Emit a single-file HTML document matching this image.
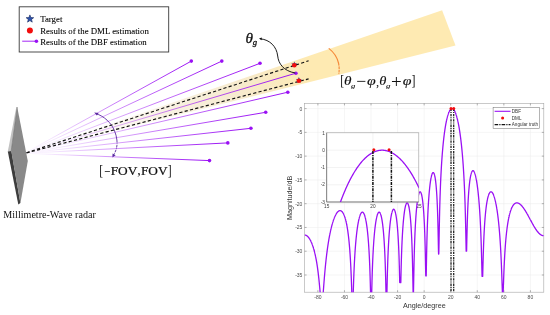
<!DOCTYPE html>
<html><head><meta charset="utf-8"><title>DBF / DML estimation</title>
<style>
html,body{margin:0;padding:0;background:#fff;}
svg{display:block}
.serif{font-family:"Liberation Serif","DejaVu Serif",serif}
.sans{font-family:"Liberation Sans","DejaVu Sans",sans-serif}
</style></head><body>
<svg width="550" height="315" viewBox="0 0 550 315">
<defs>
<linearGradient id="beamg" gradientUnits="userSpaceOnUse" x1="70" y1="138" x2="310" y2="68">
<stop offset="0" stop-color="#e8d8b4" stop-opacity="0"/>
<stop offset="0.4" stop-color="#ecdab0" stop-opacity="0.35"/>
<stop offset="0.7" stop-color="#f2dfb0" stop-opacity="0.62"/>
<stop offset="1" stop-color="#feeab2" stop-opacity="1"/>
</linearGradient>
<linearGradient id="lineg" gradientUnits="userSpaceOnUse" x1="24.5" y1="153.3" x2="200" y2="110">
<stop offset="0" stop-color="#9a10f4" stop-opacity="0"/>
<stop offset="0.12" stop-color="#9a10f4" stop-opacity="0.12"/>
<stop offset="0.6" stop-color="#9a10f4" stop-opacity="0.65"/>
<stop offset="1" stop-color="#9a10f4" stop-opacity="1"/>
</linearGradient>
<clipPath id="axclip"><rect x="304.6" y="103.4" width="239.19999999999993" height="188.79999999999998"/></clipPath>
<clipPath id="inclip"><rect x="326.7" y="132.8" width="92.10000000000002" height="69.19999999999999"/></clipPath>
</defs>
<rect width="550" height="315" fill="#fff"/>

<polygon points="24.5,153.3 442.1,10.3 455.5,45.6" fill="url(#beamg)"/>
<linearGradient id="lg0" gradientUnits="userSpaceOnUse" x1="24.5" y1="153.3" x2="191.3" y2="61.1"><stop offset="0" stop-color="#9a10f4" stop-opacity="0"/><stop offset="0.15" stop-color="#9a10f4" stop-opacity="0.1"/><stop offset="0.6" stop-color="#9a10f4" stop-opacity="0.6"/><stop offset="1" stop-color="#9a10f4" stop-opacity="1"/></linearGradient>
<line x1="24.5" y1="153.3" x2="191.3" y2="61.1" stroke="url(#lg0)" stroke-width="1.0"/>
<linearGradient id="lg1" gradientUnits="userSpaceOnUse" x1="24.5" y1="153.3" x2="221.8" y2="61.1"><stop offset="0" stop-color="#9a10f4" stop-opacity="0"/><stop offset="0.15" stop-color="#9a10f4" stop-opacity="0.1"/><stop offset="0.6" stop-color="#9a10f4" stop-opacity="0.6"/><stop offset="1" stop-color="#9a10f4" stop-opacity="1"/></linearGradient>
<line x1="24.5" y1="153.3" x2="221.8" y2="61.1" stroke="url(#lg1)" stroke-width="1.0"/>
<linearGradient id="lg2" gradientUnits="userSpaceOnUse" x1="24.5" y1="153.3" x2="260" y2="63.3"><stop offset="0" stop-color="#9a10f4" stop-opacity="0"/><stop offset="0.15" stop-color="#9a10f4" stop-opacity="0.1"/><stop offset="0.6" stop-color="#9a10f4" stop-opacity="0.6"/><stop offset="1" stop-color="#9a10f4" stop-opacity="1"/></linearGradient>
<line x1="24.5" y1="153.3" x2="260" y2="63.3" stroke="url(#lg2)" stroke-width="1.0"/>
<linearGradient id="lg3" gradientUnits="userSpaceOnUse" x1="24.5" y1="153.3" x2="295.9" y2="73.2"><stop offset="0" stop-color="#9a10f4" stop-opacity="0"/><stop offset="0.15" stop-color="#9a10f4" stop-opacity="0.1"/><stop offset="0.6" stop-color="#9a10f4" stop-opacity="0.6"/><stop offset="1" stop-color="#9a10f4" stop-opacity="1"/></linearGradient>
<line x1="24.5" y1="153.3" x2="295.9" y2="73.2" stroke="url(#lg3)" stroke-width="1.0"/>
<linearGradient id="lg4" gradientUnits="userSpaceOnUse" x1="24.5" y1="153.3" x2="287.8" y2="92.2"><stop offset="0" stop-color="#9a10f4" stop-opacity="0"/><stop offset="0.15" stop-color="#9a10f4" stop-opacity="0.1"/><stop offset="0.6" stop-color="#9a10f4" stop-opacity="0.6"/><stop offset="1" stop-color="#9a10f4" stop-opacity="1"/></linearGradient>
<line x1="24.5" y1="153.3" x2="287.8" y2="92.2" stroke="url(#lg4)" stroke-width="1.0"/>
<linearGradient id="lg5" gradientUnits="userSpaceOnUse" x1="24.5" y1="153.3" x2="265.7" y2="112.3"><stop offset="0" stop-color="#9a10f4" stop-opacity="0"/><stop offset="0.15" stop-color="#9a10f4" stop-opacity="0.1"/><stop offset="0.6" stop-color="#9a10f4" stop-opacity="0.6"/><stop offset="1" stop-color="#9a10f4" stop-opacity="1"/></linearGradient>
<line x1="24.5" y1="153.3" x2="265.7" y2="112.3" stroke="url(#lg5)" stroke-width="1.0"/>
<linearGradient id="lg6" gradientUnits="userSpaceOnUse" x1="24.5" y1="153.3" x2="250.9" y2="128.3"><stop offset="0" stop-color="#9a10f4" stop-opacity="0"/><stop offset="0.15" stop-color="#9a10f4" stop-opacity="0.1"/><stop offset="0.6" stop-color="#9a10f4" stop-opacity="0.6"/><stop offset="1" stop-color="#9a10f4" stop-opacity="1"/></linearGradient>
<line x1="24.5" y1="153.3" x2="250.9" y2="128.3" stroke="url(#lg6)" stroke-width="1.0"/>
<linearGradient id="lg7" gradientUnits="userSpaceOnUse" x1="24.5" y1="153.3" x2="227.8" y2="142.9"><stop offset="0" stop-color="#9a10f4" stop-opacity="0"/><stop offset="0.15" stop-color="#9a10f4" stop-opacity="0.1"/><stop offset="0.6" stop-color="#9a10f4" stop-opacity="0.6"/><stop offset="1" stop-color="#9a10f4" stop-opacity="1"/></linearGradient>
<line x1="24.5" y1="153.3" x2="227.8" y2="142.9" stroke="url(#lg7)" stroke-width="1.0"/>
<linearGradient id="lg8" gradientUnits="userSpaceOnUse" x1="24.5" y1="153.3" x2="209.5" y2="160.6"><stop offset="0" stop-color="#9a10f4" stop-opacity="0"/><stop offset="0.15" stop-color="#9a10f4" stop-opacity="0.1"/><stop offset="0.6" stop-color="#9a10f4" stop-opacity="0.6"/><stop offset="1" stop-color="#9a10f4" stop-opacity="1"/></linearGradient>
<line x1="24.5" y1="153.3" x2="209.5" y2="160.6" stroke="url(#lg8)" stroke-width="1.0"/>
<circle cx="191.3" cy="61.1" r="1.8" fill="#9a10f4"/>
<circle cx="221.8" cy="61.1" r="1.8" fill="#9a10f4"/>
<circle cx="260" cy="63.3" r="1.8" fill="#9a10f4"/>
<circle cx="295.9" cy="73.2" r="1.8" fill="#9a10f4"/>
<circle cx="287.8" cy="92.2" r="1.8" fill="#9a10f4"/>
<circle cx="265.7" cy="112.3" r="1.8" fill="#9a10f4"/>
<circle cx="250.9" cy="128.3" r="1.8" fill="#9a10f4"/>
<circle cx="227.8" cy="142.9" r="1.8" fill="#9a10f4"/>
<circle cx="209.5" cy="160.6" r="1.8" fill="#9a10f4"/>
<path d="M95.8,113.6 C104,116 111.5,123 114.6,131 C115.8,134 116.6,137 116.9,140" fill="none" stroke="#5b2aa0" stroke-width="0.9"/>
<path d="M116.9,140 C117.6,146 116.2,151 113.2,155.6" fill="none" stroke="#5b2aa0" stroke-width="0.9" stroke-dasharray="2.6 0.8 0.8 0.8"/>
<path d="M94.2,112.5 L98.6,112.9 L96.9,115.6 Z" fill="#5b2aa0"/>
<path d="M112.4,157.6 L112.6,153.4 L115.6,155.2 Z" fill="#5b2aa0"/>
<line x1="26.5" y1="152.70000000000002" x2="308.6" y2="60.8" stroke="#111" stroke-width="1.15" stroke-dasharray="3.2 2.25"/>
<line x1="26.5" y1="152.9" x2="308.6" y2="78.9" stroke="#111" stroke-width="1.15" stroke-dasharray="3.2 2.25"/>
<polygon points="294.30,61.40 295.09,63.51 297.34,63.61 295.58,65.02 296.18,67.19 294.30,65.94 292.42,67.19 293.02,65.02 291.26,63.61 293.51,63.51" fill="#1d3f94"/>
<polygon points="298.90,77.00 299.69,79.11 301.94,79.21 300.18,80.62 300.78,82.79 298.90,81.54 297.02,82.79 297.62,80.62 295.86,79.21 298.11,79.11" fill="#1d3f94"/>
<circle cx="294.3" cy="65.2" r="2.3" fill="#f20d0d"/>
<circle cx="298.9" cy="80.7" r="2.3" fill="#f20d0d"/>
<path d="M329.1,48.6 C333.5,52 337.2,57.5 338.5,63" fill="none" stroke="#f58a3a" stroke-width="1.15" stroke-linecap="round"/>
<path d="M338.5,63 C339.4,67 339.3,71 338.8,74.2" fill="none" stroke="#f58a3a" stroke-width="1.15" stroke-dasharray="2.6 0.8"/>
<path d="M260.3,38.8 C270,39.8 276.6,46.5 277.7,56 C278.4,63.5 283.5,71 295.3,73" fill="none" stroke="#111" stroke-width="0.95"/>
<path d="M259.0,38.6 L261.8,37.5 L261.6,40.2 Z" fill="#111"/>
<polygon points="16.3,106.9 17.4,106.9 11.4,151 7.8,151.4" fill="#c2c2c2"/>
<polygon points="7.8,151.4 11.4,151 20.4,203 18.3,204.4" fill="#3d3d3d"/>
<polygon points="17.2,106.9 27.8,161 20.4,203.2 11.2,151" fill="#898989"/>
<line x1="17.2" y1="107" x2="11.2" y2="151" stroke="#6a6a6a" stroke-width="0.5"/>
<rect x="19.2" y="6.8" width="149.5" height="45.2" fill="#fff" stroke="#3a3a3a" stroke-width="0.9"/>
<polygon points="29.90,14.90 30.89,17.54 33.70,17.66 31.50,19.42 32.25,22.14 29.90,20.58 27.55,22.14 28.30,19.42 26.10,17.66 28.91,17.54" fill="#2c52ad" stroke="#14265c" stroke-width="0.6" stroke-linejoin="miter"/>
<circle cx="29.9" cy="30.5" r="3" fill="#f20d0d"/>
<line x1="22.2" y1="41.2" x2="36" y2="41.2" stroke="#9a10f4" stroke-width="0.9"/>
<circle cx="36.4" cy="41.2" r="1.8" fill="#9a10f4"/>
<g class="serif" font-size="8.8" fill="#000" stroke="#000" stroke-width="0.08">
<text x="40.2" y="21.5">Target</text>
<text x="40.2" y="34.0">Results of the DML estimation</text>
<text x="40.2" y="44.9">Results of the DBF estimation</text>
</g>
<text class="serif" x="3.35" y="218" font-size="10.1" fill="#111">Millimetre-Wave radar</text>
<text transform="translate(99.22,175.18) scale(0.800,1)" font-size="14.67" style="font-family:Liberation Serif,DejaVu Serif,serif;" fill="#111">[</text>
<text transform="translate(103.95,174.95) scale(1.000,1)" font-size="11.03" style="font-family:Liberation Serif,DejaVu Serif,serif;font-weight:bold;" fill="#111">−</text>
<text transform="translate(110.67,175.14) scale(1.024,1)" font-size="13.04" style="font-family:Liberation Serif,DejaVu Serif,serif;" fill="#111" stroke="#111" stroke-width="0.22">FOV</text>
<text transform="translate(137.17,175.12) scale(0.919,1)" font-size="15.24" style="font-family:Liberation Serif,DejaVu Serif,serif;" fill="#111">,</text>
<text transform="translate(140.97,175.14) scale(1.020,1)" font-size="13.04" style="font-family:Liberation Serif,DejaVu Serif,serif;" fill="#111" stroke="#111" stroke-width="0.22">FOV</text>
<text transform="translate(167.86,175.18) scale(0.800,1)" font-size="14.67" style="font-family:Liberation Serif,DejaVu Serif,serif;" fill="#111">]</text>
<text transform="translate(245.44,42.51) scale(0.989,1)" font-size="15.44" style="font-family:Liberation Serif,DejaVu Serif,serif;font-style:italic;" fill="#111" stroke="#111" stroke-width="0.3">θ</text>
<text transform="translate(252.80,45.16) scale(1.122,1)" font-size="7.71" style="font-family:Liberation Serif,DejaVu Serif,serif;font-style:italic;" fill="#111" stroke="#111" stroke-width="0.3">g</text>
<text transform="translate(340.17,85.45) scale(0.830,1)" font-size="14.18" style="font-family:Liberation Serif,DejaVu Serif,serif;" fill="#111">[</text>
<text transform="translate(343.94,85.14) scale(1.209,1)" font-size="12.63" style="font-family:Liberation Serif,DejaVu Serif,serif;font-style:italic;" fill="#111" stroke="#111" stroke-width="0.12">θ</text>
<text transform="translate(351.00,87.59) scale(1.213,1)" font-size="7.13" style="font-family:Liberation Serif,DejaVu Serif,serif;font-style:italic;" fill="#111" stroke="#111" stroke-width="0.12">g</text>
<text transform="translate(356.21,87.43) scale(1.000,1)" font-size="17.73" style="font-family:Liberation Serif,DejaVu Serif,serif;" fill="#111">−</text>
<text transform="translate(367.00,85.24) scale(1.263,1)" font-size="12.51" style="font-family:Liberation Serif,DejaVu Serif,serif;font-style:italic;" fill="#111" stroke="#111" stroke-width="0.12">φ</text>
<text transform="translate(376.02,85.60) scale(0.978,1)" font-size="12.95" style="font-family:Liberation Serif,DejaVu Serif,serif;" fill="#111">,</text>
<text transform="translate(379.37,85.14) scale(1.152,1)" font-size="12.63" style="font-family:Liberation Serif,DejaVu Serif,serif;font-style:italic;" fill="#111" stroke="#111" stroke-width="0.12">θ</text>
<text transform="translate(385.90,87.59) scale(1.244,1)" font-size="7.13" style="font-family:Liberation Serif,DejaVu Serif,serif;font-style:italic;" fill="#111" stroke="#111" stroke-width="0.12">g</text>
<text transform="translate(391.05,88.07) scale(1.015,1)" font-size="18.74" style="font-family:Liberation Serif,DejaVu Serif,serif;" fill="#111">+</text>
<text transform="translate(402.71,85.24) scale(1.263,1)" font-size="12.51" style="font-family:Liberation Serif,DejaVu Serif,serif;font-style:italic;" fill="#111" stroke="#111" stroke-width="0.12">φ</text>
<text transform="translate(411.55,85.45) scale(0.846,1)" font-size="14.18" style="font-family:Liberation Serif,DejaVu Serif,serif;" fill="#111">]</text>
<rect x="304.6" y="103.4" width="239.2" height="188.8" fill="#fff"/>
<path d="M317.89,103.4 V292.2 M344.45,103.4 V292.2 M371.02,103.4 V292.2 M397.58,103.4 V292.2 M424.15,103.4 V292.2 M450.72,103.4 V292.2 M477.28,103.4 V292.2 M503.85,103.4 V292.2 M530.41,103.4 V292.2 M304.6,108.60 H543.8 M304.6,132.37 H543.8 M304.6,156.14 H543.8 M304.6,179.91 H543.8 M304.6,203.68 H543.8 M304.6,227.45 H543.8 M304.6,251.22 H543.8 M304.6,274.99 H543.8" stroke="#ebebeb" stroke-width="0.5" fill="none"/>
<rect x="304.6" y="103.4" width="239.2" height="188.8" fill="none" stroke="#a6a6a6" stroke-width="0.6"/>
<path d="M317.89,292.2 v-2 M317.89,103.4 v2 M344.45,292.2 v-2 M344.45,103.4 v2 M371.02,292.2 v-2 M371.02,103.4 v2 M397.58,292.2 v-2 M397.58,103.4 v2 M424.15,292.2 v-2 M424.15,103.4 v2 M450.72,292.2 v-2 M450.72,103.4 v2 M477.28,292.2 v-2 M477.28,103.4 v2 M503.85,292.2 v-2 M503.85,103.4 v2 M530.41,292.2 v-2 M530.41,103.4 v2 M304.6,108.60 h2 M543.8,108.60 h-2 M304.6,132.37 h2 M543.8,132.37 h-2 M304.6,156.14 h2 M543.8,156.14 h-2 M304.6,179.91 h2 M543.8,179.91 h-2 M304.6,203.68 h2 M543.8,203.68 h-2 M304.6,227.45 h2 M543.8,227.45 h-2 M304.6,251.22 h2 M543.8,251.22 h-2 M304.6,274.99 h2 M543.8,274.99 h-2" stroke="#6a6a6a" stroke-width="0.5" fill="none"/>
<g class="sans" font-size="5.0" fill="#4a4a4a">
<text x="317.9" y="299.2" text-anchor="middle">-80</text>
<text x="344.5" y="299.2" text-anchor="middle">-60</text>
<text x="371.0" y="299.2" text-anchor="middle">-40</text>
<text x="397.6" y="299.2" text-anchor="middle">-20</text>
<text x="424.1" y="299.2" text-anchor="middle">0</text>
<text x="450.7" y="299.2" text-anchor="middle">20</text>
<text x="477.3" y="299.2" text-anchor="middle">40</text>
<text x="503.8" y="299.2" text-anchor="middle">60</text>
<text x="530.4" y="299.2" text-anchor="middle">80</text>
<text x="302.4" y="110.6" text-anchor="end">0</text>
<text x="302.4" y="134.4" text-anchor="end">-5</text>
<text x="302.4" y="158.1" text-anchor="end">-10</text>
<text x="302.4" y="181.9" text-anchor="end">-15</text>
<text x="302.4" y="205.7" text-anchor="end">-20</text>
<text x="302.4" y="229.4" text-anchor="end">-25</text>
<text x="302.4" y="253.2" text-anchor="end">-30</text>
<text x="302.4" y="277.0" text-anchor="end">-35</text>
</g>
<text class="sans" x="424.3" y="308.2" font-size="7.2" fill="#333" text-anchor="middle">Angle/degree</text>
<text class="sans" transform="translate(291.8,197.9) rotate(-90)" font-size="7.2" fill="#333" text-anchor="middle">Magnitude/dB</text>
<g class="sans" font-size="4.7" fill="#3a3a3a">
<text x="324.8" y="134.5" text-anchor="end">1</text>
<text x="324.8" y="151.8" text-anchor="end">0</text>
<text x="324.8" y="169.1" text-anchor="end">-1</text>
<text x="324.8" y="186.4" text-anchor="end">-2</text>
<text x="324.8" y="203.7" text-anchor="end">-3</text>
<text x="326.7" y="207.6" text-anchor="middle">15</text>
<text x="372.9" y="207.6" text-anchor="middle">20</text>
<text x="419.1" y="207.6" text-anchor="middle">25</text>
</g>
<g clip-path="url(#axclip)"><path d="M304.60,235.00 L304.67,235.00 L304.74,235.01 L304.80,235.01 L304.87,235.01 L304.94,235.02 L305.00,235.03 L305.07,235.04 L305.13,235.05 L305.20,235.06 L305.27,235.07 L305.33,235.09 L305.40,235.10 L305.47,235.12 L305.53,235.14 L305.60,235.16 L305.67,235.18 L305.73,235.20 L305.80,235.22 L305.86,235.25 L305.93,235.28 L306.00,235.30 L306.06,235.33 L306.13,235.36 L306.20,235.39 L306.26,235.43 L306.33,235.46 L306.40,235.50 L306.46,235.54 L306.53,235.57 L306.60,235.61 L306.66,235.66 L306.73,235.70 L306.79,235.74 L306.86,235.79 L306.93,235.84 L306.99,235.88 L307.06,235.93 L307.13,235.99 L307.19,236.04 L307.26,236.09 L307.33,236.15 L307.39,236.20 L307.46,236.26 L307.53,236.32 L307.59,236.38 L307.66,236.45 L307.72,236.51 L307.79,236.57 L307.86,236.64 L307.92,236.71 L307.99,236.78 L308.06,236.85 L308.12,236.92 L308.19,237.00 L308.26,237.07 L308.32,237.15 L308.39,237.23 L308.46,237.31 L308.52,237.39 L308.59,237.47 L308.65,237.55 L308.72,237.64 L308.79,237.72 L308.85,237.81 L308.92,237.90 L308.99,237.99 L309.05,238.09 L309.12,238.18 L309.19,238.28 L309.25,238.37 L309.32,238.47 L309.38,238.57 L309.45,238.68 L309.52,238.78 L309.58,238.88 L309.65,238.99 L309.72,239.10 L309.78,239.21 L309.85,239.32 L309.92,239.43 L309.98,239.55 L310.05,239.66 L310.12,239.78 L310.18,239.90 L310.25,240.02 L310.31,240.14 L310.38,240.27 L310.45,240.39 L310.51,240.52 L310.58,240.65 L310.65,240.78 L310.71,240.91 L310.78,241.05 L310.85,241.18 L310.91,241.32 L310.98,241.46 L311.05,241.60 L311.11,241.74 L311.18,241.89 L311.24,242.03 L311.31,242.18 L311.38,242.33 L311.44,242.48 L311.51,242.64 L311.58,242.79 L311.64,242.95 L311.71,243.11 L311.78,243.27 L311.84,243.44 L311.91,243.60 L311.98,243.77 L312.04,243.94 L312.11,244.11 L312.17,244.28 L312.24,244.46 L312.31,244.63 L312.37,244.81 L312.44,245.00 L312.51,245.18 L312.57,245.36 L312.64,245.55 L312.71,245.74 L312.77,245.94 L312.84,246.13 L312.90,246.33 L312.97,246.53 L313.04,246.73 L313.10,246.93 L313.17,247.14 L313.24,247.35 L313.30,247.56 L313.37,247.77 L313.44,247.99 L313.50,248.21 L313.57,248.43 L313.64,248.65 L313.70,248.88 L313.77,249.11 L313.83,249.34 L313.90,249.57 L313.97,249.81 L314.03,250.05 L314.10,250.29 L314.17,250.54 L314.23,250.79 L314.30,251.04 L314.37,251.29 L314.43,251.55 L314.50,251.81 L314.57,252.07 L314.63,252.34 L314.70,252.61 L314.76,252.88 L314.83,253.16 L314.90,253.44 L314.96,253.72 L315.03,254.01 L315.10,254.30 L315.16,254.59 L315.23,254.89 L315.30,255.19 L315.36,255.50 L315.43,255.80 L315.50,256.12 L315.56,256.43 L315.63,256.75 L315.69,257.08 L315.76,257.41 L315.83,257.74 L315.89,258.08 L315.96,258.42 L316.03,258.76 L316.09,259.11 L316.16,259.47 L316.23,259.83 L316.29,260.19 L316.36,260.56 L316.42,260.93 L316.49,261.31 L316.56,261.69 L316.62,262.08 L316.69,262.47 L316.76,262.87 L316.82,263.28 L316.89,263.69 L316.96,264.10 L317.02,264.52 L317.09,264.95 L317.16,265.38 L317.22,265.82 L317.29,266.27 L317.35,266.72 L317.42,267.17 L317.49,267.64 L317.55,268.11 L317.62,268.58 L317.69,269.07 L317.75,269.56 L317.82,270.06 L317.89,270.56 L317.95,271.07 L318.02,271.59 L318.09,272.12 L318.15,272.65 L318.22,273.19 L318.28,273.74 L318.35,274.30 L318.42,274.86 L318.48,275.44 L318.55,276.02 L318.62,276.61 L318.68,277.21 L318.75,277.81 L318.82,278.43 L318.88,279.05 L318.95,279.69 L319.02,280.33 L319.08,280.98 L319.15,281.63 L319.21,282.30 L319.28,282.97 L319.35,283.66 L319.41,284.35 L319.48,285.05 L319.55,285.75 L319.61,286.47 L319.68,287.19 L319.75,287.92 L319.81,288.65 L319.88,289.39 L319.94,290.13 L320.01,290.88 L320.08,291.63 L320.14,292.39 L320.21,293.14 L320.28,293.89 L320.34,294.64 L320.41,295.39 L320.48,296.13 L320.54,296.86 L320.61,297.59 L320.68,298.30 L320.74,298.99 L320.81,299.67 L320.87,300.32 L320.94,300.95 L321.01,301.55 L321.07,302.12 L321.14,302.65 L321.21,303.14 L321.27,303.59 L321.34,303.99 L321.41,304.34 L321.47,304.63 L321.54,304.87 L321.61,305.04 L321.67,305.15 L321.74,305.20 L321.80,305.18 L321.87,305.09 L321.94,304.94 L322.00,304.73 L322.07,304.45 L322.14,304.11 L322.20,303.70 L322.27,303.25 L322.34,302.74 L322.40,302.17 L322.47,301.57 L322.54,300.92 L322.60,300.23 L322.67,299.51 L322.73,298.76 L322.80,297.98 L322.87,297.18 L322.93,296.36 L323.00,295.52 L323.07,294.67 L323.13,293.81 L323.20,292.94 L323.27,292.06 L323.33,291.17 L323.40,290.29 L323.46,289.40 L323.53,288.51 L323.60,287.63 L323.66,286.74 L323.73,285.86 L323.80,284.99 L323.86,284.12 L323.93,283.25 L324.00,282.40 L324.06,281.54 L324.13,280.70 L324.20,279.87 L324.26,279.04 L324.33,278.22 L324.39,277.41 L324.46,276.61 L324.53,275.81 L324.59,275.03 L324.66,274.25 L324.73,273.48 L324.79,272.72 L324.86,271.97 L324.93,271.23 L324.99,270.50 L325.06,269.78 L325.13,269.06 L325.19,268.35 L325.26,267.66 L325.32,266.97 L325.39,266.28 L325.46,265.61 L325.52,264.94 L325.59,264.29 L325.66,263.64 L325.72,262.99 L325.79,262.36 L325.86,261.73 L325.92,261.11 L325.99,260.50 L326.06,259.89 L326.12,259.29 L326.19,258.70 L326.25,258.12 L326.32,257.54 L326.39,256.97 L326.45,256.40 L326.52,255.84 L326.59,255.29 L326.65,254.74 L326.72,254.20 L326.79,253.67 L326.85,253.14 L326.92,252.62 L326.98,252.10 L327.05,251.59 L327.12,251.08 L327.18,250.58 L327.25,250.09 L327.32,249.60 L327.38,249.11 L327.45,248.63 L327.52,248.16 L327.58,247.69 L327.65,247.22 L327.72,246.76 L327.78,246.31 L327.85,245.86 L327.91,245.41 L327.98,244.97 L328.05,244.53 L328.11,244.10 L328.18,243.67 L328.25,243.25 L328.31,242.83 L328.38,242.42 L328.45,242.01 L328.51,241.60 L328.58,241.20 L328.65,240.80 L328.71,240.40 L328.78,240.01 L328.84,239.62 L328.91,239.24 L328.98,238.86 L329.04,238.48 L329.11,238.11 L329.18,237.74 L329.24,237.38 L329.31,237.02 L329.38,236.66 L329.44,236.30 L329.51,235.95 L329.58,235.60 L329.64,235.26 L329.71,234.92 L329.77,234.58 L329.84,234.25 L329.91,233.91 L329.97,233.59 L330.04,233.26 L330.11,232.94 L330.17,232.62 L330.24,232.30 L330.31,231.99 L330.37,231.68 L330.44,231.37 L330.50,231.07 L330.57,230.77 L330.64,230.47 L330.70,230.17 L330.77,229.88 L330.84,229.59 L330.90,229.31 L330.97,229.02 L331.04,228.74 L331.10,228.46 L331.17,228.18 L331.24,227.91 L331.30,227.64 L331.37,227.37 L331.43,227.11 L331.50,226.84 L331.57,226.58 L331.63,226.32 L331.70,226.07 L331.77,225.82 L331.83,225.57 L331.90,225.32 L331.97,225.07 L332.03,224.83 L332.10,224.59 L332.17,224.35 L332.23,224.11 L332.30,223.88 L332.36,223.65 L332.43,223.42 L332.50,223.19 L332.56,222.97 L332.63,222.75 L332.70,222.53 L332.76,222.31 L332.83,222.10 L332.90,221.88 L332.96,221.67 L333.03,221.47 L333.10,221.26 L333.16,221.06 L333.23,220.85 L333.29,220.65 L333.36,220.46 L333.43,220.26 L333.49,220.07 L333.56,219.88 L333.63,219.69 L333.69,219.50 L333.76,219.32 L333.83,219.14 L333.89,218.96 L333.96,218.78 L334.02,218.60 L334.09,218.43 L334.16,218.25 L334.22,218.08 L334.29,217.92 L334.36,217.75 L334.42,217.59 L334.49,217.42 L334.56,217.26 L334.62,217.11 L334.69,216.95 L334.76,216.80 L334.82,216.64 L334.89,216.49 L334.95,216.35 L335.02,216.20 L335.09,216.06 L335.15,215.91 L335.22,215.77 L335.29,215.63 L335.35,215.50 L335.42,215.36 L335.49,215.23 L335.55,215.10 L335.62,214.97 L335.69,214.84 L335.75,214.72 L335.82,214.60 L335.88,214.48 L335.95,214.36 L336.02,214.24 L336.08,214.12 L336.15,214.01 L336.22,213.90 L336.28,213.79 L336.35,213.68 L336.42,213.58 L336.48,213.47 L336.55,213.37 L336.62,213.27 L336.68,213.17 L336.75,213.07 L336.81,212.98 L336.88,212.89 L336.95,212.79 L337.01,212.71 L337.08,212.62 L337.15,212.53 L337.21,212.45 L337.28,212.37 L337.35,212.29 L337.41,212.21 L337.48,212.13 L337.54,212.06 L337.61,211.99 L337.68,211.92 L337.74,211.85 L337.81,211.78 L337.88,211.72 L337.94,211.65 L338.01,211.59 L338.08,211.53 L338.14,211.48 L338.21,211.42 L338.28,211.37 L338.34,211.32 L338.41,211.27 L338.47,211.22 L338.54,211.17 L338.61,211.13 L338.67,211.09 L338.74,211.05 L338.81,211.01 L338.87,210.97 L338.94,210.94 L339.01,210.90 L339.07,210.87 L339.14,210.85 L339.21,210.82 L339.27,210.79 L339.34,210.77 L339.40,210.75 L339.47,210.73 L339.54,210.72 L339.60,210.70 L339.67,210.69 L339.74,210.68 L339.80,210.67 L339.87,210.66 L339.94,210.66 L340.00,210.66 L340.07,210.66 L340.14,210.66 L340.20,210.66 L340.27,210.67 L340.33,210.68 L340.40,210.69 L340.47,210.70 L340.53,210.71 L340.60,210.73 L340.67,210.75 L340.73,210.77 L340.80,210.79 L340.87,210.82 L340.93,210.85 L341.00,210.88 L341.06,210.91 L341.13,210.94 L341.20,210.98 L341.26,211.02 L341.33,211.06 L341.40,211.10 L341.46,211.15 L341.53,211.20 L341.60,211.25 L341.66,211.30 L341.73,211.36 L341.80,211.41 L341.86,211.48 L341.93,211.54 L341.99,211.60 L342.06,211.67 L342.13,211.74 L342.19,211.82 L342.26,211.89 L342.33,211.97 L342.39,212.05 L342.46,212.13 L342.53,212.22 L342.59,212.31 L342.66,212.40 L342.73,212.49 L342.79,212.59 L342.86,212.69 L342.92,212.79 L342.99,212.90 L343.06,213.01 L343.12,213.12 L343.19,213.23 L343.26,213.35 L343.32,213.47 L343.39,213.59 L343.46,213.72 L343.52,213.85 L343.59,213.98 L343.66,214.12 L343.72,214.26 L343.79,214.40 L343.85,214.54 L343.92,214.69 L343.99,214.84 L344.05,215.00 L344.12,215.16 L344.19,215.32 L344.25,215.49 L344.32,215.66 L344.39,215.83 L344.45,216.01 L344.52,216.19 L344.58,216.37 L344.65,216.56 L344.72,216.75 L344.78,216.94 L344.85,217.14 L344.92,217.35 L344.98,217.55 L345.05,217.77 L345.12,217.98 L345.18,218.20 L345.25,218.43 L345.32,218.65 L345.38,218.89 L345.45,219.13 L345.51,219.37 L345.58,219.61 L345.65,219.86 L345.71,220.12 L345.78,220.38 L345.85,220.65 L345.91,220.92 L345.98,221.19 L346.05,221.47 L346.11,221.76 L346.18,222.05 L346.25,222.35 L346.31,222.65 L346.38,222.96 L346.44,223.27 L346.51,223.59 L346.58,223.92 L346.64,224.25 L346.71,224.59 L346.78,224.93 L346.84,225.28 L346.91,225.64 L346.98,226.00 L347.04,226.37 L347.11,226.75 L347.18,227.13 L347.24,227.52 L347.31,227.92 L347.37,228.32 L347.44,228.74 L347.51,229.16 L347.57,229.59 L347.64,230.02 L347.71,230.47 L347.77,230.92 L347.84,231.39 L347.91,231.86 L347.97,232.34 L348.04,232.83 L348.10,233.33 L348.17,233.84 L348.24,234.36 L348.30,234.89 L348.37,235.43 L348.44,235.98 L348.50,236.55 L348.57,237.12 L348.64,237.71 L348.70,238.31 L348.77,238.92 L348.84,239.55 L348.90,240.18 L348.97,240.84 L349.03,241.50 L349.10,242.18 L349.17,242.88 L349.23,243.59 L349.30,244.32 L349.37,245.06 L349.43,245.83 L349.50,246.61 L349.57,247.41 L349.63,248.22 L349.70,249.06 L349.77,249.92 L349.83,250.80 L349.90,251.71 L349.96,252.63 L350.03,253.58 L350.10,254.56 L350.16,255.56 L350.23,256.59 L350.30,257.65 L350.36,258.74 L350.43,259.86 L350.50,261.02 L350.56,262.21 L350.63,263.43 L350.70,264.69 L350.76,265.99 L350.83,267.34 L350.89,268.72 L350.96,270.16 L351.03,271.63 L351.09,273.16 L351.16,274.74 L351.23,276.38 L351.29,278.07 L351.36,279.81 L351.43,281.61 L351.49,283.48 L351.56,285.40 L351.62,287.37 L351.69,289.40 L351.76,291.48 L351.82,293.59 L351.89,295.73 L351.96,297.87 L352.02,299.99 L352.09,302.04 L352.16,303.99 L352.22,305.77 L352.29,307.33 L352.36,308.58 L352.42,309.47 L352.49,309.94 L352.55,309.96 L352.62,309.53 L352.69,308.68 L352.75,307.44 L352.82,305.90 L352.89,304.11 L352.95,302.15 L353.02,300.07 L353.09,297.92 L353.15,295.74 L353.22,293.56 L353.29,291.40 L353.35,289.27 L353.42,287.19 L353.48,285.17 L353.55,283.20 L353.62,281.28 L353.68,279.43 L353.75,277.63 L353.82,275.89 L353.88,274.21 L353.95,272.58 L354.02,271.00 L354.08,269.48 L354.15,268.00 L354.22,266.57 L354.28,265.18 L354.35,263.83 L354.41,262.52 L354.48,261.25 L354.55,260.02 L354.61,258.82 L354.68,257.66 L354.75,256.53 L354.81,255.43 L354.88,254.35 L354.95,253.31 L355.01,252.29 L355.08,251.30 L355.14,250.34 L355.21,249.40 L355.28,248.48 L355.34,247.58 L355.41,246.71 L355.48,245.85 L355.54,245.02 L355.61,244.20 L355.68,243.41 L355.74,242.63 L355.81,241.86 L355.88,241.12 L355.94,240.39 L356.01,239.68 L356.07,238.98 L356.14,238.30 L356.21,237.63 L356.27,236.98 L356.34,236.34 L356.41,235.71 L356.47,235.09 L356.54,234.49 L356.61,233.90 L356.67,233.32 L356.74,232.76 L356.81,232.20 L356.87,231.66 L356.94,231.13 L357.00,230.61 L357.07,230.09 L357.14,229.59 L357.20,229.10 L357.27,228.62 L357.34,228.15 L357.40,227.68 L357.47,227.23 L357.54,226.78 L357.60,226.35 L357.67,225.92 L357.73,225.50 L357.80,225.09 L357.87,224.69 L357.93,224.29 L358.00,223.91 L358.07,223.53 L358.13,223.16 L358.20,222.79 L358.27,222.44 L358.33,222.09 L358.40,221.75 L358.47,221.41 L358.53,221.08 L358.60,220.76 L358.66,220.45 L358.73,220.14 L358.80,219.84 L358.86,219.55 L358.93,219.26 L359.00,218.98 L359.06,218.71 L359.13,218.44 L359.20,218.18 L359.26,217.92 L359.33,217.67 L359.40,217.43 L359.46,217.19 L359.53,216.96 L359.59,216.73 L359.66,216.51 L359.73,216.30 L359.79,216.09 L359.86,215.89 L359.93,215.69 L359.99,215.50 L360.06,215.32 L360.13,215.14 L360.19,214.96 L360.26,214.79 L360.33,214.63 L360.39,214.47 L360.46,214.32 L360.52,214.17 L360.59,214.03 L360.66,213.89 L360.72,213.76 L360.79,213.64 L360.86,213.52 L360.92,213.40 L360.99,213.29 L361.06,213.19 L361.12,213.09 L361.19,212.99 L361.25,212.90 L361.32,212.82 L361.39,212.74 L361.45,212.67 L361.52,212.60 L361.59,212.53 L361.65,212.48 L361.72,212.42 L361.79,212.37 L361.85,212.33 L361.92,212.29 L361.99,212.26 L362.05,212.23 L362.12,212.21 L362.18,212.20 L362.25,212.18 L362.32,212.18 L362.38,212.18 L362.45,212.18 L362.52,212.19 L362.58,212.20 L362.65,212.22 L362.72,212.25 L362.78,212.28 L362.85,212.31 L362.92,212.35 L362.98,212.40 L363.05,212.45 L363.11,212.51 L363.18,212.57 L363.25,212.64 L363.31,212.71 L363.38,212.79 L363.45,212.88 L363.51,212.97 L363.58,213.07 L363.65,213.17 L363.71,213.27 L363.78,213.39 L363.85,213.51 L363.91,213.63 L363.98,213.76 L364.04,213.90 L364.11,214.04 L364.18,214.19 L364.24,214.35 L364.31,214.51 L364.38,214.68 L364.44,214.85 L364.51,215.03 L364.58,215.22 L364.64,215.41 L364.71,215.61 L364.77,215.82 L364.84,216.03 L364.91,216.25 L364.97,216.48 L365.04,216.71 L365.11,216.95 L365.17,217.20 L365.24,217.46 L365.31,217.72 L365.37,217.99 L365.44,218.27 L365.51,218.55 L365.57,218.85 L365.64,219.15 L365.70,219.46 L365.77,219.78 L365.84,220.11 L365.90,220.44 L365.97,220.78 L366.04,221.14 L366.10,221.50 L366.17,221.87 L366.24,222.25 L366.30,222.64 L366.37,223.04 L366.44,223.45 L366.50,223.87 L366.57,224.30 L366.63,224.74 L366.70,225.19 L366.77,225.65 L366.83,226.13 L366.90,226.61 L366.97,227.11 L367.03,227.62 L367.10,228.14 L367.17,228.68 L367.23,229.23 L367.30,229.79 L367.37,230.37 L367.43,230.96 L367.50,231.56 L367.56,232.18 L367.63,232.82 L367.70,233.47 L367.76,234.14 L367.83,234.82 L367.90,235.53 L367.96,236.25 L368.03,236.99 L368.10,237.75 L368.16,238.53 L368.23,239.34 L368.29,240.16 L368.36,241.01 L368.43,241.88 L368.49,242.77 L368.56,243.70 L368.63,244.65 L368.69,245.62 L368.76,246.63 L368.83,247.67 L368.89,248.73 L368.96,249.84 L369.03,250.98 L369.09,252.15 L369.16,253.37 L369.22,254.62 L369.29,255.92 L369.36,257.27 L369.42,258.66 L369.49,260.11 L369.56,261.61 L369.62,263.17 L369.69,264.79 L369.76,266.47 L369.82,268.22 L369.89,270.05 L369.96,271.96 L370.02,273.94 L370.09,276.02 L370.15,278.18 L370.22,280.44 L370.29,282.80 L370.35,285.26 L370.42,287.81 L370.49,290.46 L370.55,293.18 L370.62,295.97 L370.69,298.77 L370.75,301.53 L370.82,304.17 L370.89,306.59 L370.95,308.63 L371.02,310.15 L371.08,311.01 L371.15,311.13 L371.22,310.47 L371.28,309.13 L371.35,307.21 L371.42,304.87 L371.48,302.26 L371.55,299.50 L371.62,296.67 L371.68,293.85 L371.75,291.07 L371.81,288.37 L371.88,285.75 L371.95,283.23 L372.01,280.81 L372.08,278.49 L372.15,276.27 L372.21,274.13 L372.28,272.09 L372.35,270.13 L372.41,268.25 L372.48,266.44 L372.55,264.71 L372.61,263.04 L372.68,261.44 L372.74,259.89 L372.81,258.40 L372.88,256.96 L372.94,255.57 L373.01,254.23 L373.08,252.93 L373.14,251.68 L373.21,250.47 L373.28,249.29 L373.34,248.15 L373.41,247.05 L373.48,245.97 L373.54,244.93 L373.61,243.92 L373.67,242.94 L373.74,241.99 L373.81,241.06 L373.87,240.16 L373.94,239.29 L374.01,238.43 L374.07,237.60 L374.14,236.79 L374.21,236.01 L374.27,235.24 L374.34,234.49 L374.41,233.76 L374.47,233.05 L374.54,232.36 L374.60,231.69 L374.67,231.03 L374.74,230.39 L374.80,229.76 L374.87,229.16 L374.94,228.56 L375.00,227.98 L375.07,227.41 L375.14,226.86 L375.20,226.33 L375.27,225.80 L375.33,225.29 L375.40,224.79 L375.47,224.30 L375.53,223.83 L375.60,223.37 L375.67,222.91 L375.73,222.48 L375.80,222.05 L375.87,221.63 L375.93,221.22 L376.00,220.83 L376.07,220.44 L376.13,220.07 L376.20,219.70 L376.26,219.35 L376.33,219.00 L376.40,218.67 L376.46,218.34 L376.53,218.03 L376.60,217.72 L376.66,217.42 L376.73,217.13 L376.80,216.85 L376.86,216.58 L376.93,216.32 L377.00,216.06 L377.06,215.82 L377.13,215.58 L377.19,215.35 L377.26,215.14 L377.33,214.92 L377.39,214.72 L377.46,214.52 L377.53,214.34 L377.59,214.16 L377.66,213.99 L377.73,213.82 L377.79,213.67 L377.86,213.52 L377.93,213.38 L377.99,213.25 L378.06,213.12 L378.12,213.01 L378.19,212.90 L378.26,212.80 L378.32,212.70 L378.39,212.62 L378.46,212.54 L378.52,212.47 L378.59,212.41 L378.66,212.35 L378.72,212.30 L378.79,212.26 L378.85,212.23 L378.92,212.20 L378.99,212.18 L379.05,212.17 L379.12,212.17 L379.19,212.17 L379.25,212.19 L379.32,212.21 L379.39,212.23 L379.45,212.27 L379.52,212.31 L379.59,212.36 L379.65,212.42 L379.72,212.49 L379.78,212.56 L379.85,212.64 L379.92,212.73 L379.98,212.83 L380.05,212.94 L380.12,213.05 L380.18,213.17 L380.25,213.30 L380.32,213.44 L380.38,213.59 L380.45,213.75 L380.52,213.91 L380.58,214.08 L380.65,214.26 L380.71,214.45 L380.78,214.65 L380.85,214.86 L380.91,215.08 L380.98,215.30 L381.05,215.54 L381.11,215.78 L381.18,216.04 L381.25,216.30 L381.31,216.58 L381.38,216.86 L381.45,217.16 L381.51,217.46 L381.58,217.78 L381.64,218.10 L381.71,218.44 L381.78,218.79 L381.84,219.15 L381.91,219.52 L381.98,219.90 L382.04,220.29 L382.11,220.70 L382.18,221.12 L382.24,221.55 L382.31,221.99 L382.37,222.45 L382.44,222.92 L382.51,223.41 L382.57,223.90 L382.64,224.42 L382.71,224.95 L382.77,225.49 L382.84,226.05 L382.91,226.63 L382.97,227.22 L383.04,227.83 L383.11,228.46 L383.17,229.10 L383.24,229.77 L383.30,230.45 L383.37,231.16 L383.44,231.88 L383.50,232.63 L383.57,233.40 L383.64,234.19 L383.70,235.01 L383.77,235.85 L383.84,236.72 L383.90,237.62 L383.97,238.54 L384.04,239.49 L384.10,240.48 L384.17,241.49 L384.23,242.54 L384.30,243.63 L384.37,244.75 L384.43,245.92 L384.50,247.12 L384.57,248.37 L384.63,249.67 L384.70,251.01 L384.77,252.41 L384.83,253.86 L384.90,255.37 L384.97,256.94 L385.03,258.58 L385.10,260.29 L385.16,262.07 L385.23,263.94 L385.30,265.90 L385.36,267.94 L385.43,270.09 L385.50,272.35 L385.56,274.72 L385.63,277.21 L385.70,279.82 L385.76,282.56 L385.83,285.44 L385.89,288.44 L385.96,291.55 L386.03,294.73 L386.09,297.94 L386.16,301.07 L386.23,304.00 L386.29,306.54 L386.36,308.47 L386.43,309.56 L386.49,309.67 L386.56,308.78 L386.63,307.01 L386.69,304.57 L386.76,301.67 L386.82,298.53 L386.89,295.29 L386.96,292.04 L387.02,288.87 L387.09,285.79 L387.16,282.84 L387.22,280.01 L387.29,277.32 L387.36,274.75 L387.42,272.31 L387.49,269.98 L387.56,267.75 L387.62,265.64 L387.69,263.61 L387.75,261.68 L387.82,259.82 L387.89,258.05 L387.95,256.35 L388.02,254.72 L388.09,253.15 L388.15,251.64 L388.22,250.18 L388.29,248.78 L388.35,247.43 L388.42,246.13 L388.49,244.87 L388.55,243.65 L388.62,242.48 L388.68,241.34 L388.75,240.24 L388.82,239.17 L388.88,238.14 L388.95,237.13 L389.02,236.16 L389.08,235.22 L389.15,234.31 L389.22,233.42 L389.28,232.56 L389.35,231.72 L389.41,230.90 L389.48,230.11 L389.55,229.34 L389.61,228.60 L389.68,227.87 L389.75,227.16 L389.81,226.48 L389.88,225.81 L389.95,225.16 L390.01,224.53 L390.08,223.91 L390.15,223.32 L390.21,222.74 L390.28,222.17 L390.34,221.62 L390.41,221.09 L390.48,220.57 L390.54,220.06 L390.61,219.57 L390.68,219.10 L390.74,218.63 L390.81,218.18 L390.88,217.75 L390.94,217.32 L391.01,216.91 L391.08,216.52 L391.14,216.13 L391.21,215.75 L391.27,215.39 L391.34,215.04 L391.41,214.70 L391.47,214.37 L391.54,214.06 L391.61,213.75 L391.67,213.46 L391.74,213.17 L391.81,212.90 L391.87,212.64 L391.94,212.38 L392.01,212.14 L392.07,211.91 L392.14,211.69 L392.20,211.48 L392.27,211.27 L392.34,211.08 L392.40,210.90 L392.47,210.73 L392.54,210.56 L392.60,210.41 L392.67,210.27 L392.74,210.13 L392.80,210.01 L392.87,209.89 L392.93,209.78 L393.00,209.69 L393.07,209.60 L393.13,209.52 L393.20,209.45 L393.27,209.39 L393.33,209.34 L393.40,209.30 L393.47,209.27 L393.53,209.25 L393.60,209.24 L393.67,209.23 L393.73,209.24 L393.80,209.25 L393.86,209.28 L393.93,209.31 L394.00,209.36 L394.06,209.41 L394.13,209.47 L394.20,209.54 L394.26,209.63 L394.33,209.72 L394.40,209.82 L394.46,209.93 L394.53,210.05 L394.60,210.18 L394.66,210.32 L394.73,210.47 L394.79,210.63 L394.86,210.81 L394.93,210.99 L394.99,211.18 L395.06,211.39 L395.13,211.60 L395.19,211.82 L395.26,212.06 L395.33,212.31 L395.39,212.57 L395.46,212.84 L395.53,213.12 L395.59,213.42 L395.66,213.72 L395.72,214.04 L395.79,214.37 L395.86,214.72 L395.92,215.08 L395.99,215.45 L396.06,215.83 L396.12,216.23 L396.19,216.64 L396.26,217.07 L396.32,217.51 L396.39,217.96 L396.45,218.44 L396.52,218.92 L396.59,219.43 L396.65,219.95 L396.72,220.48 L396.79,221.04 L396.85,221.61 L396.92,222.20 L396.99,222.81 L397.05,223.44 L397.12,224.10 L397.19,224.77 L397.25,225.46 L397.32,226.18 L397.38,226.92 L397.45,227.68 L397.52,228.47 L397.58,229.28 L397.65,230.13 L397.72,231.00 L397.78,231.89 L397.85,232.82 L397.92,233.79 L397.98,234.78 L398.05,235.81 L398.12,236.88 L398.18,237.99 L398.25,239.14 L398.31,240.33 L398.38,241.57 L398.45,242.85 L398.51,244.19 L398.58,245.58 L398.65,247.02 L398.71,248.53 L398.78,250.11 L398.85,251.75 L398.91,253.47 L398.98,255.27 L399.05,257.16 L399.11,259.14 L399.18,261.22 L399.24,263.41 L399.31,265.71 L399.38,268.14 L399.44,270.70 L399.51,273.41 L399.58,276.26 L399.64,279.26 L399.71,282.42 L399.78,282.60 L399.84,282.60 L399.91,282.60 L399.97,282.60 L400.04,282.60 L400.11,282.60 L400.17,282.60 L400.24,282.60 L400.31,282.60 L400.37,282.60 L400.44,282.60 L400.51,282.60 L400.57,282.60 L400.64,282.60 L400.71,282.60 L400.77,282.60 L400.84,281.64 L400.90,278.42 L400.97,275.35 L401.04,272.43 L401.10,269.66 L401.17,267.03 L401.24,264.54 L401.30,262.16 L401.37,259.91 L401.44,257.76 L401.50,255.71 L401.57,253.75 L401.64,251.88 L401.70,250.10 L401.77,248.38 L401.83,246.74 L401.90,245.16 L401.97,243.64 L402.03,242.18 L402.10,240.78 L402.17,239.42 L402.23,238.11 L402.30,236.85 L402.37,235.64 L402.43,234.46 L402.50,233.32 L402.57,232.22 L402.63,231.16 L402.70,230.13 L402.76,229.13 L402.83,228.16 L402.90,227.22 L402.96,226.31 L403.03,225.43 L403.10,224.57 L403.16,223.74 L403.23,222.93 L403.30,222.15 L403.36,221.39 L403.43,220.65 L403.49,219.93 L403.56,219.24 L403.63,218.56 L403.69,217.90 L403.76,217.27 L403.83,216.65 L403.89,216.04 L403.96,215.46 L404.03,214.89 L404.09,214.34 L404.16,213.81 L404.23,213.29 L404.29,212.78 L404.36,212.29 L404.42,211.82 L404.49,211.36 L404.56,210.92 L404.62,210.49 L404.69,210.07 L404.76,209.66 L404.82,209.27 L404.89,208.90 L404.96,208.53 L405.02,208.18 L405.09,207.84 L405.16,207.51 L405.22,207.20 L405.29,206.89 L405.35,206.60 L405.42,206.32 L405.49,206.05 L405.55,205.80 L405.62,205.55 L405.69,205.32 L405.75,205.10 L405.82,204.88 L405.89,204.68 L405.95,204.49 L406.02,204.31 L406.09,204.15 L406.15,203.99 L406.22,203.84 L406.28,203.71 L406.35,203.58 L406.42,203.46 L406.48,203.36 L406.55,203.26 L406.62,203.18 L406.68,203.11 L406.75,203.04 L406.82,202.99 L406.88,202.95 L406.95,202.92 L407.01,202.90 L407.08,202.88 L407.15,202.88 L407.21,202.89 L407.28,202.91 L407.35,202.95 L407.41,202.99 L407.48,203.04 L407.55,203.10 L407.61,203.18 L407.68,203.26 L407.75,203.36 L407.81,203.46 L407.88,203.58 L407.94,203.71 L408.01,203.85 L408.08,204.00 L408.14,204.16 L408.21,204.34 L408.28,204.53 L408.34,204.72 L408.41,204.93 L408.48,205.16 L408.54,205.39 L408.61,205.64 L408.68,205.90 L408.74,206.17 L408.81,206.46 L408.87,206.76 L408.94,207.07 L409.01,207.40 L409.07,207.74 L409.14,208.09 L409.21,208.46 L409.27,208.85 L409.34,209.25 L409.41,209.66 L409.47,210.09 L409.54,210.54 L409.61,211.00 L409.67,211.48 L409.74,211.98 L409.80,212.50 L409.87,213.04 L409.94,213.59 L410.00,214.16 L410.07,214.76 L410.14,215.37 L410.20,216.01 L410.27,216.67 L410.34,217.35 L410.40,218.05 L410.47,218.78 L410.53,219.53 L410.60,220.32 L410.67,221.12 L410.73,221.96 L410.80,222.83 L410.87,223.73 L410.93,224.66 L411.00,225.62 L411.07,226.62 L411.13,227.66 L411.20,228.74 L411.27,229.86 L411.33,231.02 L411.40,232.23 L411.46,233.48 L411.53,234.79 L411.60,236.16 L411.66,237.58 L411.73,239.06 L411.80,240.61 L411.86,242.24 L411.93,243.93 L412.00,245.71 L412.06,247.58 L412.13,249.54 L412.20,251.61 L412.26,253.78 L412.33,256.08 L412.39,258.50 L412.46,261.07 L412.53,263.78 L412.59,266.64 L412.66,269.68 L412.73,272.87 L412.79,276.23 L412.86,279.72 L412.93,283.29 L412.99,286.84 L413.06,290.23 L413.13,293.22 L413.19,295.49 L413.26,296.73 L413.32,296.74 L413.39,295.49 L413.46,293.19 L413.52,290.14 L413.59,286.66 L413.66,283.00 L413.72,279.30 L413.79,275.69 L413.86,272.20 L413.92,268.87 L413.99,265.71 L414.05,262.71 L414.12,259.86 L414.19,257.17 L414.25,254.61 L414.32,252.19 L414.39,249.88 L414.45,247.69 L414.52,245.60 L414.59,243.61 L414.65,241.70 L414.72,239.88 L414.79,238.13 L414.85,236.46 L414.92,234.85 L414.98,233.31 L415.05,231.82 L415.12,230.39 L415.18,229.01 L415.25,227.68 L415.32,226.40 L415.38,225.16 L415.45,223.96 L415.52,222.80 L415.58,221.68 L415.65,220.60 L415.72,219.55 L415.78,218.53 L415.85,217.55 L415.91,216.59 L415.98,215.66 L416.05,214.76 L416.11,213.89 L416.18,213.04 L416.25,212.22 L416.31,211.42 L416.38,210.65 L416.45,209.89 L416.51,209.16 L416.58,208.45 L416.65,207.76 L416.71,207.09 L416.78,206.44 L416.84,205.80 L416.91,205.19 L416.98,204.59 L417.04,204.01 L417.11,203.45 L417.18,202.90 L417.24,202.37 L417.31,201.86 L417.38,201.36 L417.44,200.88 L417.51,200.41 L417.57,199.95 L417.64,199.51 L417.71,199.08 L417.77,198.67 L417.84,198.27 L417.91,197.89 L417.97,197.51 L418.04,197.15 L418.11,196.81 L418.17,196.47 L418.24,196.15 L418.31,195.84 L418.37,195.54 L418.44,195.26 L418.50,194.98 L418.57,194.72 L418.64,194.47 L418.70,194.23 L418.77,194.00 L418.84,193.79 L418.90,193.58 L418.97,193.39 L419.04,193.21 L419.10,193.04 L419.17,192.88 L419.24,192.73 L419.30,192.59 L419.37,192.46 L419.43,192.35 L419.50,192.24 L419.57,192.15 L419.63,192.06 L419.70,191.99 L419.77,191.93 L419.83,191.88 L419.90,191.84 L419.97,191.81 L420.03,191.79 L420.10,191.79 L420.17,191.79 L420.23,191.80 L420.30,191.83 L420.36,191.87 L420.43,191.92 L420.50,191.98 L420.56,192.05 L420.63,192.13 L420.70,192.22 L420.76,192.33 L420.83,192.45 L420.90,192.58 L420.96,192.72 L421.03,192.87 L421.09,193.04 L421.16,193.21 L421.23,193.41 L421.29,193.61 L421.36,193.83 L421.43,194.05 L421.49,194.30 L421.56,194.55 L421.63,194.82 L421.69,195.11 L421.76,195.40 L421.83,195.72 L421.89,196.04 L421.96,196.39 L422.02,196.74 L422.09,197.12 L422.16,197.50 L422.22,197.91 L422.29,198.33 L422.36,198.77 L422.42,199.23 L422.49,199.70 L422.56,200.20 L422.62,200.71 L422.69,201.24 L422.76,201.79 L422.82,202.37 L422.89,202.96 L422.95,203.58 L423.02,204.22 L423.09,204.88 L423.15,205.57 L423.22,206.28 L423.29,207.02 L423.35,207.79 L423.42,208.58 L423.49,209.41 L423.55,210.26 L423.62,211.15 L423.69,212.07 L423.75,213.03 L423.82,214.03 L423.88,215.06 L423.95,216.14 L424.02,217.26 L424.08,218.42 L424.15,219.64 L424.22,220.90 L424.28,222.22 L424.35,223.60 L424.42,225.04 L424.48,226.54 L424.55,228.12 L424.61,229.77 L424.68,231.51 L424.75,233.33 L424.81,235.24 L424.88,237.26 L424.95,239.39 L425.01,241.64 L425.08,244.01 L425.15,246.53 L425.21,249.19 L425.28,252.02 L425.35,255.01 L425.41,258.17 L425.48,261.49 L425.54,264.96 L425.61,268.53 L425.68,272.11 L425.74,275.56 L425.81,275.94 L425.88,275.94 L425.94,275.94 L426.01,275.94 L426.08,275.94 L426.14,275.94 L426.21,275.94 L426.28,272.67 L426.34,268.93 L426.41,265.15 L426.47,261.45 L426.54,257.87 L426.61,254.46 L426.67,251.21 L426.74,248.13 L426.81,245.21 L426.87,242.45 L426.94,239.83 L427.01,237.34 L427.07,234.98 L427.14,232.73 L427.21,230.58 L427.27,228.53 L427.34,226.57 L427.40,224.70 L427.47,222.90 L427.54,221.18 L427.60,219.52 L427.67,217.93 L427.74,216.39 L427.80,214.92 L427.87,213.49 L427.94,212.12 L428.00,210.79 L428.07,209.50 L428.13,208.26 L428.20,207.06 L428.27,205.89 L428.33,204.77 L428.40,203.67 L428.47,202.61 L428.53,201.58 L428.60,200.58 L428.67,199.61 L428.73,198.67 L428.80,197.75 L428.87,196.86 L428.93,196.00 L429.00,195.16 L429.06,194.34 L429.13,193.54 L429.20,192.77 L429.26,192.01 L429.33,191.28 L429.40,190.57 L429.46,189.87 L429.53,189.20 L429.60,188.54 L429.66,187.90 L429.73,187.28 L429.80,186.67 L429.86,186.08 L429.93,185.50 L429.99,184.94 L430.06,184.40 L430.13,183.87 L430.19,183.36 L430.26,182.86 L430.33,182.37 L430.39,181.90 L430.46,181.44 L430.53,181.00 L430.59,180.56 L430.66,180.15 L430.73,179.74 L430.79,179.34 L430.86,178.96 L430.92,178.59 L430.99,178.24 L431.06,177.89 L431.12,177.55 L431.19,177.23 L431.26,176.92 L431.32,176.62 L431.39,176.33 L431.46,176.05 L431.52,175.79 L431.59,175.53 L431.65,175.29 L431.72,175.05 L431.79,174.83 L431.85,174.62 L431.92,174.41 L431.99,174.22 L432.05,174.04 L432.12,173.87 L432.19,173.71 L432.25,173.56 L432.32,173.42 L432.39,173.29 L432.45,173.17 L432.52,173.07 L432.58,172.97 L432.65,172.88 L432.72,172.80 L432.78,172.74 L432.85,172.68 L432.92,172.63 L432.98,172.60 L433.05,172.57 L433.12,172.56 L433.18,172.56 L433.25,172.57 L433.32,172.58 L433.38,172.61 L433.45,172.65 L433.51,172.71 L433.58,172.77 L433.65,172.84 L433.71,172.93 L433.78,173.03 L433.85,173.14 L433.91,173.26 L433.98,173.39 L434.05,173.54 L434.11,173.69 L434.18,173.86 L434.25,174.05 L434.31,174.24 L434.38,174.45 L434.44,174.68 L434.51,174.91 L434.58,175.16 L434.64,175.43 L434.71,175.71 L434.78,176.00 L434.84,176.31 L434.91,176.64 L434.98,176.98 L435.04,177.34 L435.11,177.71 L435.17,178.10 L435.24,178.51 L435.31,178.94 L435.37,179.39 L435.44,179.85 L435.51,180.34 L435.57,180.85 L435.64,181.37 L435.71,181.92 L435.77,182.50 L435.84,183.09 L435.91,183.71 L435.97,184.36 L436.04,185.03 L436.10,185.73 L436.17,186.46 L436.24,187.22 L436.30,188.01 L436.37,188.84 L436.44,189.69 L436.50,190.59 L436.57,191.52 L436.64,192.49 L436.70,193.50 L436.77,194.56 L436.84,195.67 L436.90,196.82 L436.97,198.03 L437.03,199.30 L437.10,200.62 L437.17,202.01 L437.23,203.47 L437.30,205.00 L437.37,206.61 L437.43,208.31 L437.50,210.09 L437.57,211.98 L437.63,213.97 L437.70,216.08 L437.77,218.32 L437.83,220.69 L437.90,223.21 L437.96,225.88 L438.03,228.71 L438.10,231.71 L438.16,234.88 L438.23,238.20 L438.30,241.63 L438.36,245.10 L438.43,248.48 L438.50,251.56 L438.56,254.06 L438.63,254.07 L438.69,254.07 L438.76,254.07 L438.83,252.99 L438.89,250.00 L438.96,246.45 L439.03,242.63 L439.09,238.73 L439.16,234.88 L439.23,231.15 L439.29,227.57 L439.36,224.15 L439.43,220.91 L439.49,217.82 L439.56,214.89 L439.62,212.10 L439.69,209.45 L439.76,206.92 L439.82,204.51 L439.89,202.20 L439.96,199.99 L440.02,197.87 L440.09,195.84 L440.16,193.88 L440.22,192.00 L440.29,190.18 L440.36,188.43 L440.42,186.73 L440.49,185.09 L440.55,183.51 L440.62,181.97 L440.69,180.48 L440.75,179.03 L440.82,177.63 L440.89,176.26 L440.95,174.93 L441.02,173.63 L441.09,172.37 L441.15,171.14 L441.22,169.94 L441.29,168.77 L441.35,167.63 L441.42,166.51 L441.48,165.42 L441.55,164.36 L441.62,163.31 L441.68,162.29 L441.75,161.30 L441.82,160.32 L441.88,159.36 L441.95,158.42 L442.02,157.50 L442.08,156.60 L442.15,155.72 L442.21,154.85 L442.28,154.00 L442.35,153.16 L442.41,152.34 L442.48,151.54 L442.55,150.75 L442.61,149.97 L442.68,149.21 L442.75,148.46 L442.81,147.72 L442.88,147.00 L442.95,146.28 L443.01,145.58 L443.08,144.89 L443.14,144.22 L443.21,143.55 L443.28,142.90 L443.34,142.25 L443.41,141.62 L443.48,140.99 L443.54,140.38 L443.61,139.77 L443.68,139.18 L443.74,138.59 L443.81,138.01 L443.88,137.44 L443.94,136.88 L444.01,136.33 L444.07,135.79 L444.14,135.26 L444.21,134.73 L444.27,134.21 L444.34,133.70 L444.41,133.20 L444.47,132.70 L444.54,132.21 L444.61,131.73 L444.67,131.26 L444.74,130.79 L444.81,130.33 L444.87,129.88 L444.94,129.43 L445.00,128.99 L445.07,128.55 L445.14,128.13 L445.20,127.71 L445.27,127.29 L445.34,126.88 L445.40,126.48 L445.47,126.08 L445.54,125.69 L445.60,125.31 L445.67,124.93 L445.73,124.55 L445.80,124.19 L445.87,123.82 L445.93,123.47 L446.00,123.11 L446.07,122.77 L446.13,122.43 L446.20,122.09 L446.27,121.76 L446.33,121.43 L446.40,121.11 L446.47,120.80 L446.53,120.48 L446.60,120.18 L446.66,119.88 L446.73,119.58 L446.80,119.29 L446.86,119.00 L446.93,118.72 L447.00,118.44 L447.06,118.17 L447.13,117.90 L447.20,117.63 L447.26,117.37 L447.33,117.12 L447.40,116.87 L447.46,116.62 L447.53,116.38 L447.59,116.14 L447.66,115.90 L447.73,115.67 L447.79,115.45 L447.86,115.23 L447.93,115.01 L447.99,114.80 L448.06,114.59 L448.13,114.38 L448.19,114.18 L448.26,113.98 L448.33,113.79 L448.39,113.60 L448.46,113.41 L448.52,113.23 L448.59,113.05 L448.66,112.87 L448.72,112.70 L448.79,112.54 L448.86,112.37 L448.92,112.21 L448.99,112.06 L449.06,111.90 L449.12,111.76 L449.19,111.61 L449.25,111.47 L449.32,111.33 L449.39,111.20 L449.45,111.07 L449.52,110.94 L449.59,110.82 L449.65,110.70 L449.72,110.58 L449.79,110.47 L449.85,110.36 L449.92,110.25 L449.99,110.15 L450.05,110.05 L450.12,109.95 L450.18,109.86 L450.25,109.77 L450.32,109.68 L450.38,109.60 L450.45,109.52 L450.52,109.44 L450.58,109.37 L450.65,109.30 L450.72,109.24 L450.78,109.17 L450.85,109.11 L450.92,109.06 L450.98,109.01 L451.05,108.96 L451.11,108.91 L451.18,108.87 L451.25,108.83 L451.31,108.79 L451.38,108.76 L451.45,108.73 L451.51,108.70 L451.58,108.68 L451.65,108.66 L451.71,108.64 L451.78,108.62 L451.85,108.61 L451.91,108.61 L451.98,108.60 L452.04,108.60 L452.11,108.60 L452.18,108.61 L452.24,108.61 L452.31,108.63 L452.38,108.64 L452.44,108.66 L452.51,108.68 L452.58,108.70 L452.64,108.73 L452.71,108.76 L452.77,108.79 L452.84,108.83 L452.91,108.87 L452.97,108.91 L453.04,108.96 L453.11,109.01 L453.17,109.06 L453.24,109.12 L453.31,109.17 L453.37,109.24 L453.44,109.30 L453.51,109.37 L453.57,109.44 L453.64,109.52 L453.70,109.59 L453.77,109.67 L453.84,109.76 L453.90,109.85 L453.97,109.94 L454.04,110.03 L454.10,110.13 L454.17,110.23 L454.24,110.33 L454.30,110.44 L454.37,110.55 L454.44,110.66 L454.50,110.78 L454.57,110.90 L454.63,111.02 L454.70,111.14 L454.77,111.27 L454.83,111.41 L454.90,111.54 L454.97,111.68 L455.03,111.82 L455.10,111.97 L455.17,112.12 L455.23,112.27 L455.30,112.43 L455.37,112.59 L455.43,112.75 L455.50,112.92 L455.56,113.08 L455.63,113.26 L455.70,113.43 L455.76,113.61 L455.83,113.80 L455.90,113.98 L455.96,114.17 L456.03,114.37 L456.10,114.56 L456.16,114.77 L456.23,114.97 L456.29,115.18 L456.36,115.39 L456.43,115.60 L456.49,115.82 L456.56,116.05 L456.63,116.27 L456.69,116.50 L456.76,116.73 L456.83,116.97 L456.89,117.21 L456.96,117.46 L457.03,117.71 L457.09,117.96 L457.16,118.21 L457.22,118.48 L457.29,118.74 L457.36,119.01 L457.42,119.28 L457.49,119.56 L457.56,119.84 L457.62,120.12 L457.69,120.41 L457.76,120.70 L457.82,121.00 L457.89,121.30 L457.96,121.60 L458.02,121.91 L458.09,122.22 L458.15,122.54 L458.22,122.86 L458.29,123.19 L458.35,123.52 L458.42,123.86 L458.49,124.20 L458.55,124.54 L458.62,124.89 L458.69,125.25 L458.75,125.61 L458.82,125.97 L458.89,126.34 L458.95,126.71 L459.02,127.09 L459.08,127.47 L459.15,127.86 L459.22,128.25 L459.28,128.65 L459.35,129.06 L459.42,129.47 L459.48,129.88 L459.55,130.30 L459.62,130.73 L459.68,131.16 L459.75,131.59 L459.81,132.04 L459.88,132.48 L459.95,132.94 L460.01,133.40 L460.08,133.87 L460.15,134.34 L460.21,134.82 L460.28,135.30 L460.35,135.79 L460.41,136.29 L460.48,136.80 L460.55,137.31 L460.61,137.83 L460.68,138.35 L460.74,138.88 L460.81,139.42 L460.88,139.97 L460.94,140.53 L461.01,141.09 L461.08,141.66 L461.14,142.24 L461.21,142.82 L461.28,143.42 L461.34,144.02 L461.41,144.63 L461.48,145.25 L461.54,145.88 L461.61,146.52 L461.67,147.17 L461.74,147.83 L461.81,148.50 L461.87,149.17 L461.94,149.86 L462.01,150.56 L462.07,151.27 L462.14,151.99 L462.21,152.72 L462.27,153.47 L462.34,154.22 L462.41,154.99 L462.47,155.77 L462.54,156.57 L462.60,157.38 L462.67,158.20 L462.74,159.03 L462.80,159.89 L462.87,160.75 L462.94,161.63 L463.00,162.53 L463.07,163.45 L463.14,164.38 L463.20,165.33 L463.27,166.30 L463.33,167.29 L463.40,168.30 L463.47,169.33 L463.53,170.38 L463.60,171.46 L463.67,172.56 L463.73,173.68 L463.80,174.83 L463.87,176.01 L463.93,177.21 L464.00,178.45 L464.07,179.71 L464.13,181.01 L464.20,182.34 L464.26,183.71 L464.33,185.12 L464.40,186.56 L464.46,188.05 L464.53,189.59 L464.60,191.17 L464.66,192.80 L464.73,194.48 L464.80,196.23 L464.86,198.03 L464.93,199.90 L465.00,201.83 L465.06,203.85 L465.13,205.94 L465.19,208.11 L465.26,210.38 L465.33,212.74 L465.39,215.21 L465.46,217.79 L465.53,220.49 L465.59,223.30 L465.66,226.25 L465.73,229.32 L465.79,232.50 L465.86,235.79 L465.93,239.15 L465.99,242.53 L466.06,245.83 L466.12,248.92 L466.19,251.22 L466.26,251.22 L466.32,251.22 L466.39,251.22 L466.46,251.22 L466.52,251.22 L466.59,251.07 L466.66,248.45 L466.72,245.57 L466.79,242.57 L466.85,239.57 L466.92,236.63 L466.99,233.78 L467.05,231.04 L467.12,228.43 L467.19,225.94 L467.25,223.58 L467.32,221.33 L467.39,219.20 L467.45,217.18 L467.52,215.25 L467.59,213.42 L467.65,211.67 L467.72,210.01 L467.78,208.42 L467.85,206.91 L467.92,205.46 L467.98,204.07 L468.05,202.74 L468.12,201.47 L468.18,200.24 L468.25,199.07 L468.32,197.94 L468.38,196.86 L468.45,195.82 L468.52,194.81 L468.58,193.85 L468.65,192.91 L468.71,192.02 L468.78,191.15 L468.85,190.31 L468.91,189.51 L468.98,188.73 L469.05,187.98 L469.11,187.25 L469.18,186.55 L469.25,185.87 L469.31,185.22 L469.38,184.58 L469.45,183.97 L469.51,183.38 L469.58,182.80 L469.64,182.25 L469.71,181.71 L469.78,181.20 L469.84,180.70 L469.91,180.21 L469.98,179.74 L470.04,179.29 L470.11,178.86 L470.18,178.43 L470.24,178.03 L470.31,177.63 L470.37,177.25 L470.44,176.89 L470.51,176.53 L470.57,176.19 L470.64,175.86 L470.71,175.55 L470.77,175.24 L470.84,174.95 L470.91,174.67 L470.97,174.40 L471.04,174.14 L471.11,173.89 L471.17,173.65 L471.24,173.42 L471.30,173.21 L471.37,173.00 L471.44,172.80 L471.50,172.61 L471.57,172.43 L471.64,172.27 L471.70,172.11 L471.77,171.95 L471.84,171.81 L471.90,171.68 L471.97,171.55 L472.04,171.44 L472.10,171.33 L472.17,171.23 L472.23,171.14 L472.30,171.06 L472.37,170.98 L472.43,170.92 L472.50,170.86 L472.57,170.81 L472.63,170.76 L472.70,170.73 L472.77,170.70 L472.83,170.68 L472.90,170.67 L472.97,170.66 L473.03,170.66 L473.10,170.67 L473.16,170.69 L473.23,170.71 L473.30,170.74 L473.36,170.78 L473.43,170.83 L473.50,170.88 L473.56,170.94 L473.63,171.01 L473.70,171.08 L473.76,171.16 L473.83,171.25 L473.89,171.34 L473.96,171.45 L474.03,171.55 L474.09,171.67 L474.16,171.79 L474.23,171.92 L474.29,172.06 L474.36,172.20 L474.43,172.35 L474.49,172.51 L474.56,172.67 L474.63,172.84 L474.69,173.02 L474.76,173.20 L474.82,173.39 L474.89,173.59 L474.96,173.79 L475.02,174.00 L475.09,174.22 L475.16,174.45 L475.22,174.68 L475.29,174.92 L475.36,175.16 L475.42,175.42 L475.49,175.68 L475.56,175.94 L475.62,176.22 L475.69,176.50 L475.75,176.79 L475.82,177.08 L475.89,177.39 L475.95,177.70 L476.02,178.02 L476.09,178.34 L476.15,178.68 L476.22,179.02 L476.29,179.36 L476.35,179.72 L476.42,180.08 L476.49,180.46 L476.55,180.84 L476.62,181.22 L476.68,181.62 L476.75,182.03 L476.82,182.44 L476.88,182.86 L476.95,183.29 L477.02,183.73 L477.08,184.18 L477.15,184.63 L477.22,185.10 L477.28,185.57 L477.35,186.06 L477.41,186.55 L477.48,187.05 L477.55,187.57 L477.61,188.09 L477.68,188.62 L477.75,189.17 L477.81,189.72 L477.88,190.29 L477.95,190.86 L478.01,191.45 L478.08,192.05 L478.15,192.66 L478.21,193.28 L478.28,193.92 L478.34,194.57 L478.41,195.23 L478.48,195.90 L478.54,196.59 L478.61,197.29 L478.68,198.01 L478.74,198.74 L478.81,199.49 L478.88,200.25 L478.94,201.03 L479.01,201.82 L479.08,202.63 L479.14,203.46 L479.21,204.31 L479.27,205.18 L479.34,206.06 L479.41,206.97 L479.47,207.90 L479.54,208.85 L479.61,209.82 L479.67,210.82 L479.74,211.84 L479.81,212.88 L479.87,213.96 L479.94,215.06 L480.01,216.18 L480.07,217.34 L480.14,218.54 L480.20,219.76 L480.27,221.02 L480.34,222.32 L480.40,223.65 L480.47,225.03 L480.54,226.45 L480.60,227.91 L480.67,229.42 L480.74,230.98 L480.80,232.60 L480.87,234.27 L480.93,236.00 L481.00,237.79 L481.07,239.65 L481.13,241.58 L481.20,243.59 L481.27,245.67 L481.33,247.83 L481.40,250.08 L481.47,252.42 L481.53,254.84 L481.60,257.36 L481.67,259.95 L481.73,262.62 L481.80,265.34 L481.86,268.10 L481.93,270.84 L482.00,273.52 L482.06,276.04 L482.13,276.42 L482.20,276.42 L482.26,276.42 L482.33,276.42 L482.40,276.42 L482.46,276.42 L482.53,276.42 L482.60,276.42 L482.66,276.42 L482.73,274.43 L482.79,271.94 L482.86,269.38 L482.93,266.82 L482.99,264.28 L483.06,261.80 L483.13,259.40 L483.19,257.08 L483.26,254.85 L483.33,252.70 L483.39,250.64 L483.46,248.67 L483.53,246.78 L483.59,244.97 L483.66,243.23 L483.72,241.56 L483.79,239.95 L483.86,238.41 L483.92,236.93 L483.99,235.50 L484.06,234.13 L484.12,232.81 L484.19,231.53 L484.26,230.30 L484.32,229.11 L484.39,227.96 L484.45,226.85 L484.52,225.78 L484.59,224.74 L484.65,223.74 L484.72,222.76 L484.79,221.82 L484.85,220.90 L484.92,220.01 L484.99,219.15 L485.05,218.31 L485.12,217.50 L485.19,216.71 L485.25,215.94 L485.32,215.20 L485.38,214.47 L485.45,213.77 L485.52,213.08 L485.58,212.41 L485.65,211.76 L485.72,211.13 L485.78,210.52 L485.85,209.92 L485.92,209.33 L485.98,208.76 L486.05,208.21 L486.12,207.67 L486.18,207.14 L486.25,206.63 L486.31,206.13 L486.38,205.65 L486.45,205.17 L486.51,204.71 L486.58,204.26 L486.65,203.82 L486.71,203.39 L486.78,202.98 L486.85,202.57 L486.91,202.17 L486.98,201.79 L487.05,201.41 L487.11,201.04 L487.18,200.69 L487.24,200.34 L487.31,200.00 L487.38,199.67 L487.44,199.35 L487.51,199.04 L487.58,198.73 L487.64,198.44 L487.71,198.15 L487.78,197.87 L487.84,197.60 L487.91,197.33 L487.97,197.08 L488.04,196.83 L488.11,196.58 L488.17,196.35 L488.24,196.12 L488.31,195.90 L488.37,195.68 L488.44,195.48 L488.51,195.28 L488.57,195.08 L488.64,194.89 L488.71,194.71 L488.77,194.53 L488.84,194.36 L488.90,194.20 L488.97,194.04 L489.04,193.89 L489.10,193.74 L489.17,193.60 L489.24,193.47 L489.30,193.34 L489.37,193.22 L489.44,193.10 L489.50,192.98 L489.57,192.88 L489.64,192.78 L489.70,192.68 L489.77,192.59 L489.83,192.50 L489.90,192.42 L489.97,192.34 L490.03,192.27 L490.10,192.21 L490.17,192.15 L490.23,192.09 L490.30,192.04 L490.37,191.99 L490.43,191.95 L490.50,191.91 L490.56,191.88 L490.63,191.85 L490.70,191.83 L490.76,191.81 L490.83,191.80 L490.90,191.79 L490.96,191.78 L491.03,191.78 L491.10,191.79 L491.16,191.80 L491.23,191.81 L491.30,191.83 L491.36,191.85 L491.43,191.88 L491.49,191.91 L491.56,191.94 L491.63,191.98 L491.69,192.02 L491.76,192.07 L491.83,192.13 L491.89,192.18 L491.96,192.24 L492.03,192.31 L492.09,192.38 L492.16,192.45 L492.23,192.53 L492.29,192.61 L492.36,192.70 L492.42,192.79 L492.49,192.88 L492.56,192.98 L492.62,193.08 L492.69,193.19 L492.76,193.30 L492.82,193.42 L492.89,193.54 L492.96,193.66 L493.02,193.79 L493.09,193.92 L493.16,194.06 L493.22,194.20 L493.29,194.35 L493.35,194.49 L493.42,194.65 L493.49,194.81 L493.55,194.97 L493.62,195.13 L493.69,195.30 L493.75,195.48 L493.82,195.66 L493.89,195.84 L493.95,196.03 L494.02,196.22 L494.08,196.42 L494.15,196.62 L494.22,196.82 L494.28,197.03 L494.35,197.25 L494.42,197.47 L494.48,197.69 L494.55,197.92 L494.62,198.15 L494.68,198.39 L494.75,198.63 L494.82,198.87 L494.88,199.12 L494.95,199.38 L495.01,199.64 L495.08,199.90 L495.15,200.17 L495.21,200.45 L495.28,200.72 L495.35,201.01 L495.41,201.30 L495.48,201.59 L495.55,201.89 L495.61,202.19 L495.68,202.50 L495.75,202.82 L495.81,203.14 L495.88,203.46 L495.94,203.79 L496.01,204.13 L496.08,204.47 L496.14,204.82 L496.21,205.17 L496.28,205.53 L496.34,205.89 L496.41,206.26 L496.48,206.64 L496.54,207.02 L496.61,207.40 L496.68,207.80 L496.74,208.20 L496.81,208.60 L496.87,209.02 L496.94,209.44 L497.01,209.86 L497.07,210.29 L497.14,210.73 L497.21,211.18 L497.27,211.63 L497.34,212.09 L497.41,212.56 L497.47,213.04 L497.54,213.52 L497.60,214.01 L497.67,214.51 L497.74,215.01 L497.80,215.53 L497.87,216.05 L497.94,216.58 L498.00,217.12 L498.07,217.67 L498.14,218.23 L498.20,218.80 L498.27,219.37 L498.34,219.96 L498.40,220.56 L498.47,221.16 L498.53,221.78 L498.60,222.41 L498.67,223.04 L498.73,223.69 L498.80,224.35 L498.87,225.03 L498.93,225.71 L499.00,226.41 L499.07,227.12 L499.13,227.84 L499.20,228.58 L499.27,229.33 L499.33,230.10 L499.40,230.88 L499.46,231.67 L499.53,232.48 L499.60,233.31 L499.66,234.15 L499.73,235.01 L499.80,235.89 L499.86,236.79 L499.93,237.71 L500.00,238.65 L500.06,239.60 L500.13,240.58 L500.20,241.58 L500.26,242.61 L500.33,243.66 L500.39,244.73 L500.46,245.83 L500.53,246.96 L500.59,248.11 L500.66,249.29 L500.73,250.51 L500.79,251.75 L500.86,253.03 L500.93,254.34 L500.99,255.69 L501.06,257.07 L501.12,258.50 L501.19,259.96 L501.26,261.46 L501.32,263.01 L501.39,264.59 L501.46,266.22 L501.52,267.90 L501.59,269.62 L501.66,271.39 L501.72,273.19 L501.79,275.04 L501.86,276.92 L501.92,278.83 L501.99,280.77 L502.05,282.71 L502.12,284.65 L502.19,286.56 L502.25,288.43 L502.32,290.20 L502.39,291.86 L502.45,293.35 L502.52,294.64 L502.59,295.67 L502.65,296.41 L502.72,296.82 L502.79,296.88 L502.85,296.60 L502.92,296.00 L502.98,295.09 L503.05,293.94 L503.12,292.57 L503.18,291.03 L503.25,289.38 L503.32,287.64 L503.38,285.84 L503.45,284.02 L503.52,282.20 L503.58,280.38 L503.65,278.58 L503.72,276.82 L503.78,275.09 L503.85,273.39 L503.91,271.75 L503.98,270.14 L504.05,268.58 L504.11,267.06 L504.18,265.59 L504.25,264.16 L504.31,262.77 L504.38,261.43 L504.45,260.12 L504.51,258.85 L504.58,257.62 L504.64,256.42 L504.71,255.25 L504.78,254.12 L504.84,253.02 L504.91,251.95 L504.98,250.91 L505.04,249.90 L505.11,248.91 L505.18,247.95 L505.24,247.01 L505.31,246.10 L505.38,245.21 L505.44,244.34 L505.51,243.49 L505.57,242.67 L505.64,241.86 L505.71,241.07 L505.77,240.30 L505.84,239.55 L505.91,238.81 L505.97,238.10 L506.04,237.39 L506.11,236.70 L506.17,236.03 L506.24,235.37 L506.31,234.73 L506.37,234.10 L506.44,233.48 L506.50,232.88 L506.57,232.28 L506.64,231.70 L506.70,231.13 L506.77,230.57 L506.84,230.03 L506.90,229.49 L506.97,228.97 L507.04,228.45 L507.10,227.94 L507.17,227.45 L507.24,226.96 L507.30,226.48 L507.37,226.01 L507.43,225.55 L507.50,225.10 L507.57,224.66 L507.63,224.22 L507.70,223.79 L507.77,223.37 L507.83,222.96 L507.90,222.56 L507.97,222.16 L508.03,221.77 L508.10,221.38 L508.16,221.00 L508.23,220.63 L508.30,220.27 L508.36,219.91 L508.43,219.56 L508.50,219.21 L508.56,218.87 L508.63,218.54 L508.70,218.21 L508.76,217.89 L508.83,217.57 L508.90,217.26 L508.96,216.95 L509.03,216.65 L509.09,216.35 L509.16,216.06 L509.23,215.77 L509.29,215.49 L509.36,215.21 L509.43,214.94 L509.49,214.67 L509.56,214.41 L509.63,214.15 L509.69,213.89 L509.76,213.64 L509.83,213.40 L509.89,213.16 L509.96,212.92 L510.02,212.68 L510.09,212.45 L510.16,212.23 L510.22,212.01 L510.29,211.79 L510.36,211.57 L510.42,211.36 L510.49,211.15 L510.56,210.95 L510.62,210.75 L510.69,210.55 L510.76,210.36 L510.82,210.17 L510.89,209.98 L510.95,209.80 L511.02,209.62 L511.09,209.44 L511.15,209.27 L511.22,209.10 L511.29,208.93 L511.35,208.76 L511.42,208.60 L511.49,208.44 L511.55,208.29 L511.62,208.13 L511.68,207.98 L511.75,207.83 L511.82,207.69 L511.88,207.55 L511.95,207.41 L512.02,207.27 L512.08,207.14 L512.15,207.01 L512.22,206.88 L512.28,206.75 L512.35,206.63 L512.42,206.50 L512.48,206.39 L512.55,206.27 L512.61,206.16 L512.68,206.04 L512.75,205.93 L512.81,205.83 L512.88,205.72 L512.95,205.62 L513.01,205.52 L513.08,205.42 L513.15,205.32 L513.21,205.23 L513.28,205.14 L513.35,205.05 L513.41,204.96 L513.48,204.88 L513.54,204.79 L513.61,204.71 L513.68,204.63 L513.74,204.56 L513.81,204.48 L513.88,204.41 L513.94,204.34 L514.01,204.27 L514.08,204.20 L514.14,204.14 L514.21,204.07 L514.28,204.01 L514.34,203.95 L514.41,203.89 L514.47,203.84 L514.54,203.78 L514.61,203.73 L514.67,203.68 L514.74,203.63 L514.81,203.58 L514.87,203.53 L514.94,203.49 L515.01,203.45 L515.07,203.41 L515.14,203.37 L515.20,203.33 L515.27,203.29 L515.34,203.26 L515.40,203.23 L515.47,203.20 L515.54,203.17 L515.60,203.14 L515.67,203.11 L515.74,203.09 L515.80,203.06 L515.87,203.04 L515.94,203.02 L516.00,203.00 L516.07,202.98 L516.13,202.97 L516.20,202.95 L516.27,202.94 L516.33,202.93 L516.40,202.92 L516.47,202.91 L516.53,202.90 L516.60,202.89 L516.67,202.89 L516.73,202.89 L516.80,202.88 L516.87,202.88 L516.93,202.88 L517.00,202.88 L517.06,202.89 L517.13,202.89 L517.20,202.90 L517.26,202.90 L517.33,202.91 L517.40,202.92 L517.46,202.93 L517.53,202.94 L517.60,202.96 L517.66,202.97 L517.73,202.99 L517.80,203.00 L517.86,203.02 L517.93,203.04 L517.99,203.06 L518.06,203.08 L518.13,203.10 L518.19,203.13 L518.26,203.15 L518.33,203.18 L518.39,203.20 L518.46,203.23 L518.53,203.26 L518.59,203.29 L518.66,203.32 L518.72,203.35 L518.79,203.39 L518.86,203.42 L518.92,203.46 L518.99,203.49 L519.06,203.53 L519.12,203.57 L519.19,203.61 L519.26,203.65 L519.32,203.69 L519.39,203.74 L519.46,203.78 L519.52,203.82 L519.59,203.87 L519.65,203.92 L519.72,203.96 L519.79,204.01 L519.85,204.06 L519.92,204.11 L519.99,204.16 L520.05,204.21 L520.12,204.27 L520.19,204.32 L520.25,204.38 L520.32,204.43 L520.39,204.49 L520.45,204.55 L520.52,204.60 L520.58,204.66 L520.65,204.72 L520.72,204.79 L520.78,204.85 L520.85,204.91 L520.92,204.97 L520.98,205.04 L521.05,205.10 L521.12,205.17 L521.18,205.24 L521.25,205.30 L521.32,205.37 L521.38,205.44 L521.45,205.51 L521.51,205.58 L521.58,205.65 L521.65,205.73 L521.71,205.80 L521.78,205.87 L521.85,205.95 L521.91,206.02 L521.98,206.10 L522.05,206.18 L522.11,206.25 L522.18,206.33 L522.24,206.41 L522.31,206.49 L522.38,206.57 L522.44,206.65 L522.51,206.74 L522.58,206.82 L522.64,206.90 L522.71,206.99 L522.78,207.07 L522.84,207.16 L522.91,207.24 L522.98,207.33 L523.04,207.42 L523.11,207.50 L523.17,207.59 L523.24,207.68 L523.31,207.77 L523.37,207.86 L523.44,207.95 L523.51,208.04 L523.57,208.14 L523.64,208.23 L523.71,208.32 L523.77,208.42 L523.84,208.51 L523.91,208.61 L523.97,208.70 L524.04,208.80 L524.10,208.90 L524.17,208.99 L524.24,209.09 L524.30,209.19 L524.37,209.29 L524.44,209.39 L524.50,209.49 L524.57,209.59 L524.64,209.69 L524.70,209.79 L524.77,209.90 L524.84,210.00 L524.90,210.10 L524.97,210.21 L525.03,210.31 L525.10,210.41 L525.17,210.52 L525.23,210.63 L525.30,210.73 L525.37,210.84 L525.43,210.95 L525.50,211.05 L525.57,211.16 L525.63,211.27 L525.70,211.38 L525.76,211.49 L525.83,211.60 L525.90,211.71 L525.96,211.82 L526.03,211.93 L526.10,212.04 L526.16,212.15 L526.23,212.26 L526.30,212.38 L526.36,212.49 L526.43,212.60 L526.50,212.71 L526.56,212.83 L526.63,212.94 L526.69,213.06 L526.76,213.17 L526.83,213.29 L526.89,213.40 L526.96,213.52 L527.03,213.63 L527.09,213.75 L527.16,213.87 L527.23,213.99 L527.29,214.10 L527.36,214.22 L527.43,214.34 L527.49,214.46 L527.56,214.57 L527.62,214.69 L527.69,214.81 L527.76,214.93 L527.82,215.05 L527.89,215.17 L527.96,215.29 L528.02,215.41 L528.09,215.53 L528.16,215.65 L528.22,215.77 L528.29,215.89 L528.36,216.02 L528.42,216.14 L528.49,216.26 L528.55,216.38 L528.62,216.50 L528.69,216.62 L528.75,216.75 L528.82,216.87 L528.89,216.99 L528.95,217.11 L529.02,217.24 L529.09,217.36 L529.15,217.48 L529.22,217.61 L529.28,217.73 L529.35,217.85 L529.42,217.98 L529.48,218.10 L529.55,218.22 L529.62,218.35 L529.68,218.47 L529.75,218.59 L529.82,218.72 L529.88,218.84 L529.95,218.97 L530.02,219.09 L530.08,219.21 L530.15,219.34 L530.21,219.46 L530.28,219.59 L530.35,219.71 L530.41,219.83 L530.48,219.96 L530.55,220.08 L530.61,220.21 L530.68,220.33 L530.75,220.45 L530.81,220.58 L530.88,220.70 L530.95,220.83 L531.01,220.95 L531.08,221.07 L531.14,221.20 L531.21,221.32 L531.28,221.44 L531.34,221.57 L531.41,221.69 L531.48,221.81 L531.54,221.94 L531.61,222.06 L531.68,222.18 L531.74,222.30 L531.81,222.43 L531.88,222.55 L531.94,222.67 L532.01,222.79 L532.07,222.91 L532.14,223.04 L532.21,223.16 L532.27,223.28 L532.34,223.40 L532.41,223.52 L532.47,223.64 L532.54,223.76 L532.61,223.88 L532.67,224.00 L532.74,224.12 L532.80,224.24 L532.87,224.36 L532.94,224.48 L533.00,224.60 L533.07,224.71 L533.14,224.83 L533.20,224.95 L533.27,225.07 L533.34,225.18 L533.40,225.30 L533.47,225.42 L533.54,225.53 L533.60,225.65 L533.67,225.76 L533.73,225.88 L533.80,225.99 L533.87,226.11 L533.93,226.22 L534.00,226.34 L534.07,226.45 L534.13,226.56 L534.20,226.67 L534.27,226.79 L534.33,226.90 L534.40,227.01 L534.47,227.12 L534.53,227.23 L534.60,227.34 L534.66,227.45 L534.73,227.56 L534.80,227.67 L534.86,227.77 L534.93,227.88 L535.00,227.99 L535.06,228.09 L535.13,228.20 L535.20,228.31 L535.26,228.41 L535.33,228.52 L535.40,228.62 L535.46,228.72 L535.53,228.83 L535.59,228.93 L535.66,229.03 L535.73,229.13 L535.79,229.23 L535.86,229.33 L535.93,229.43 L535.99,229.53 L536.06,229.63 L536.13,229.73 L536.19,229.82 L536.26,229.92 L536.32,230.02 L536.39,230.11 L536.46,230.21 L536.52,230.30 L536.59,230.39 L536.66,230.49 L536.72,230.58 L536.79,230.67 L536.86,230.76 L536.92,230.85 L536.99,230.94 L537.06,231.03 L537.12,231.12 L537.19,231.21 L537.25,231.29 L537.32,231.38 L537.39,231.46 L537.45,231.55 L537.52,231.63 L537.59,231.72 L537.65,231.80 L537.72,231.88 L537.79,231.96 L537.85,232.04 L537.92,232.12 L537.99,232.20 L538.05,232.28 L538.12,232.36 L538.18,232.43 L538.25,232.51 L538.32,232.58 L538.38,232.66 L538.45,232.73 L538.52,232.80 L538.58,232.87 L538.65,232.95 L538.72,233.02 L538.78,233.09 L538.85,233.15 L538.92,233.22 L538.98,233.29 L539.05,233.35 L539.11,233.42 L539.18,233.48 L539.25,233.55 L539.31,233.61 L539.38,233.67 L539.45,233.73 L539.51,233.79 L539.58,233.85 L539.65,233.91 L539.71,233.97 L539.78,234.03 L539.84,234.08 L539.91,234.14 L539.98,234.19 L540.04,234.24 L540.11,234.30 L540.18,234.35 L540.24,234.40 L540.31,234.45 L540.38,234.50 L540.44,234.54 L540.51,234.59 L540.58,234.64 L540.64,234.68 L540.71,234.72 L540.77,234.77 L540.84,234.81 L540.91,234.85 L540.97,234.89 L541.04,234.93 L541.11,234.97 L541.17,235.01 L541.24,235.04 L541.31,235.08 L541.37,235.11 L541.44,235.15 L541.51,235.18 L541.57,235.21 L541.64,235.24 L541.70,235.27 L541.77,235.30 L541.84,235.33 L541.90,235.36 L541.97,235.38 L542.04,235.41 L542.10,235.43 L542.17,235.46 L542.24,235.48 L542.30,235.50 L542.37,235.52 L542.44,235.54 L542.50,235.56 L542.57,235.57 L542.63,235.59 L542.70,235.61 L542.77,235.62 L542.83,235.63 L542.90,235.65 L542.97,235.66 L543.03,235.67 L543.10,235.68 L543.17,235.69 L543.23,235.69 L543.30,235.70 L543.36,235.70 L543.43,235.71 L543.50,235.71 L543.56,235.71 L543.63,235.72 L543.70,235.72" fill="none" stroke="#9a10f4" stroke-width="1.3" stroke-linejoin="round"/>
<path d="M451.02,108.60 V292.2 M453.72,108.60 V292.2" stroke="#111" stroke-width="1.2" stroke-dasharray="2.4 0.9 1.1 0.9" fill="none"/></g>
<circle cx="451.02" cy="108.40" r="1.5" fill="#f20d0d"/><circle cx="453.72" cy="108.40" r="1.5" fill="#f20d0d"/>
<rect x="493.1" y="107.5" width="46.5" height="20.8" fill="#fff" stroke="#6a6a6a" stroke-width="0.5"/>
<line x1="494.6" y1="111.3" x2="510.5" y2="111.3" stroke="#9a10f4" stroke-width="1.1"/>
<circle cx="502.6" cy="118" r="1.5" fill="#f20d0d"/>
<line x1="494.6" y1="124.7" x2="510.5" y2="124.7" stroke="#111" stroke-width="1.25" stroke-dasharray="3.6 1.1 1.2 1.1"/>
<g class="sans" font-size="4.6" fill="#333">
<text x="511.8" y="112.9">DBF</text><text x="511.8" y="119.6">DML</text><text x="511.8" y="126.3">Angular truth</text></g>
<rect x="326.7" y="132.8" width="92.1" height="69.2" fill="#fff"/>
<path d="M372.90,132.8 V202.0 M326.7,150.20 H418.8 M326.7,167.50 H418.8 M326.7,184.80 H418.8" stroke="#e6e6e6" stroke-width="0.5" fill="none"/>
<rect x="326.7" y="132.8" width="92.1" height="69.2" fill="none" stroke="#9a9a9a" stroke-width="0.6"/>
<path d="M326.7,132.8 V202.0 H418.8" fill="none" stroke="#6a6a6a" stroke-width="0.7"/>
<g clip-path="url(#inclip)"><path d="M326.70,249.11 L327.16,247.17 L327.62,245.25 L328.09,243.37 L328.55,241.51 L329.01,239.68 L329.47,237.87 L329.93,236.10 L330.40,234.35 L330.86,232.62 L331.32,230.93 L331.78,229.25 L332.24,227.60 L332.71,225.98 L333.17,224.38 L333.63,222.80 L334.09,221.24 L334.55,219.71 L335.02,218.20 L335.48,216.72 L335.94,215.25 L336.40,213.81 L336.86,212.39 L337.33,210.99 L337.79,209.61 L338.25,208.25 L338.71,206.91 L339.17,205.59 L339.64,204.29 L340.10,203.01 L340.56,201.75 L341.02,200.51 L341.48,199.28 L341.95,198.08 L342.41,196.89 L342.87,195.72 L343.33,194.58 L343.79,193.44 L344.26,192.33 L344.72,191.23 L345.18,190.15 L345.64,189.09 L346.10,188.05 L346.57,187.02 L347.03,186.01 L347.49,185.01 L347.95,184.04 L348.41,183.07 L348.88,182.13 L349.34,181.20 L349.80,180.28 L350.26,179.38 L350.72,178.50 L351.19,177.63 L351.65,176.78 L352.11,175.94 L352.57,175.12 L353.03,174.31 L353.50,173.52 L353.96,172.74 L354.42,171.98 L354.88,171.23 L355.34,170.50 L355.81,169.78 L356.27,169.07 L356.73,168.38 L357.19,167.70 L357.65,167.04 L358.12,166.39 L358.58,165.76 L359.04,165.13 L359.50,164.53 L359.96,163.93 L360.43,163.35 L360.89,162.78 L361.35,162.23 L361.81,161.69 L362.27,161.16 L362.74,160.64 L363.20,160.14 L363.66,159.65 L364.12,159.18 L364.58,158.71 L365.05,158.26 L365.51,157.82 L365.97,157.40 L366.43,156.99 L366.89,156.59 L367.36,156.20 L367.82,155.83 L368.28,155.46 L368.74,155.11 L369.20,154.78 L369.67,154.45 L370.13,154.14 L370.59,153.84 L371.05,153.55 L371.51,153.27 L371.98,153.01 L372.44,152.76 L372.90,152.52 L373.36,152.29 L373.82,152.07 L374.29,151.87 L374.75,151.68 L375.21,151.50 L375.67,151.33 L376.13,151.17 L376.60,151.03 L377.06,150.89 L377.52,150.77 L377.98,150.66 L378.44,150.56 L378.91,150.48 L379.37,150.40 L379.83,150.34 L380.29,150.29 L380.75,150.25 L381.22,150.22 L381.68,150.21 L382.14,150.20 L382.60,150.21 L383.06,150.22 L383.53,150.25 L383.99,150.30 L384.45,150.35 L384.91,150.41 L385.37,150.49 L385.84,150.58 L386.30,150.67 L386.76,150.78 L387.22,150.91 L387.68,151.04 L388.15,151.18 L388.61,151.34 L389.07,151.51 L389.53,151.69 L389.99,151.88 L390.46,152.08 L390.92,152.29 L391.38,152.52 L391.84,152.75 L392.30,153.00 L392.77,153.26 L393.23,153.53 L393.69,153.82 L394.15,154.11 L394.61,154.42 L395.08,154.74 L395.54,155.06 L396.00,155.41 L396.46,155.76 L396.92,156.12 L397.39,156.50 L397.85,156.89 L398.31,157.29 L398.77,157.70 L399.23,158.12 L399.70,158.56 L400.16,159.00 L400.62,159.46 L401.08,159.93 L401.54,160.41 L402.01,160.91 L402.47,161.42 L402.93,161.93 L403.39,162.47 L403.85,163.01 L404.32,163.56 L404.78,164.13 L405.24,164.71 L405.70,165.30 L406.16,165.91 L406.63,166.52 L407.09,167.15 L407.55,167.79 L408.01,168.45 L408.47,169.12 L408.94,169.80 L409.40,170.49 L409.86,171.19 L410.32,171.91 L410.78,172.64 L411.25,173.39 L411.71,174.14 L412.17,174.91 L412.63,175.70 L413.09,176.49 L413.56,177.30 L414.02,178.12 L414.48,178.96 L414.94,179.81 L415.40,180.68 L415.87,181.55 L416.33,182.44 L416.79,183.35 L417.25,184.27 L417.71,185.20 L418.18,186.15 L418.64,187.11 L419.10,188.09" fill="none" stroke="#9a10f4" stroke-width="1.3"/>
<path d="M372.90,151.06 V202.0 M391.38,151.06 V202.0" stroke="#111" stroke-width="1.5" stroke-dasharray="3 1 1.2 1" fill="none"/></g>
<circle cx="373.82" cy="149.85" r="1.5" fill="#f20d0d"/><circle cx="389.07" cy="149.85" r="1.5" fill="#f20d0d"/>
</svg></body></html>
